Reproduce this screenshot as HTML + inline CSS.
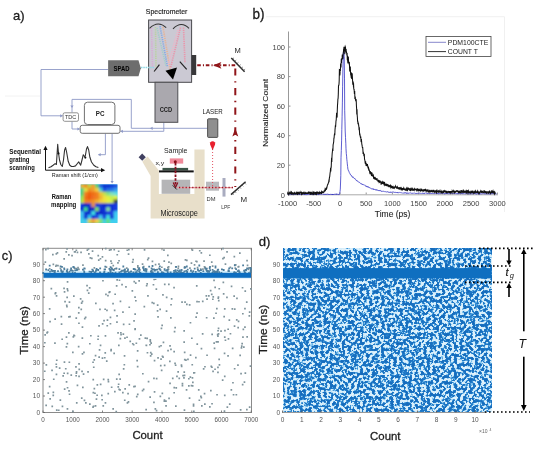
<!DOCTYPE html>
<html><head><meta charset="utf-8"><style>
html,body{margin:0;padding:0;background:#fff;}
svg{display:block;will-change:transform;}
text{font-family:"Liberation Sans",sans-serif;}
</style></head><body>
<svg width="533" height="449" viewBox="0 0 533 449">
<rect width="533" height="449" fill="#fff"/>
<text x="13" y="19.7" font-size="13.6" fill="#1a1a1a" text-anchor="start" font-weight="normal" textLength="11.6" lengthAdjust="spacingAndGlyphs" stroke="#1a1a1a" stroke-width="0.3">a)</text>
<line x1="5" y1="96" x2="40" y2="96" stroke="#f2f2f2" stroke-width="1"/>
<polyline points="108,69.5 41,69.5 41,115.8 62.5,115.8" fill="none" stroke="#8d98c6" stroke-width="0.9" />
<path d="M62.8 115.8 L60.2 114.2 L60.2 117.4 Z" fill="#8d98c6"/>
<polyline points="72,112.5 72,99.4 131.3,99.4 131.3,128.3 207.5,128.3" fill="none" stroke="#8d98c6" stroke-width="0.9" />
<path d="M72 108 L70.4 105.4 L73.6 105.4 Z" fill="#8d98c6"/>
<path d="M150 128.3 L152.6 126.7 L152.6 129.9 Z" fill="#8d98c6"/>
<polyline points="72,121.5 72,129 79.5,129" fill="none" stroke="#8d98c6" stroke-width="0.9" />
<path d="M80 129 L77.4 127.4 L77.4 130.6 Z" fill="#8d98c6"/>
<polyline points="163.8,122.5 163.8,131.3 120.5,131.3" fill="none" stroke="#8d98c6" stroke-width="0.9" />
<path d="M120.3 131.3 L122.9 129.7 L122.9 132.9 Z" fill="#8d98c6"/>
<polyline points="105.4,133.5 105.4,154.7 98.5,154.7" fill="none" stroke="#8d98c6" stroke-width="0.9" />
<path d="M98 154.7 L100.6 153.1 L100.6 156.3 Z" fill="#8d98c6"/>
<polyline points="112.1,133.5 112.1,182" fill="none" stroke="#8d98c6" stroke-width="0.9" />
<path d="M112.1 183.5 L110.5 180.9 L113.7 180.9 Z" fill="#8d98c6"/>
<text x="145.8" y="13.6" font-size="7.6" fill="#1a1a1a" text-anchor="start" font-weight="normal" textLength="41.6" lengthAdjust="spacingAndGlyphs" stroke="#1a1a1a" stroke-width="0.15">Spectrometer</text>
<rect x="148.6" y="20" width="43" height="62.3" fill="#cbc9d3" stroke="#4a4a4e" stroke-width="1"/>
<line x1="151.5" y1="28" x2="152.5" y2="67" stroke="#d9a9d6" stroke-width="1.7" stroke-dasharray="1.3 0.9" opacity="0.85"/>
<line x1="155.5" y1="27" x2="156" y2="67" stroke="#b8d49c" stroke-width="1.7" stroke-dasharray="1.3 0.9" opacity="0.85"/>
<line x1="160" y1="26" x2="167.5" y2="67" stroke="#7ea8e6" stroke-width="1.7" stroke-dasharray="1.3 0.9" opacity="0.85"/>
<line x1="163" y1="27" x2="170" y2="69" stroke="#e8b090" stroke-width="1.7" stroke-dasharray="1.3 0.9" opacity="0.85"/>
<line x1="157" y1="28" x2="166" y2="66" stroke="#9cd0c8" stroke-width="1.7" stroke-dasharray="1.3 0.9" opacity="0.85"/>
<line x1="180.5" y1="27.5" x2="170.5" y2="68" stroke="#ee8fa6" stroke-width="1.7" stroke-dasharray="1.3 0.9" opacity="0.85"/>
<line x1="183.5" y1="27.5" x2="185" y2="63" stroke="#ee8fa6" stroke-width="1.7" stroke-dasharray="1.3 0.9" opacity="0.85"/>
<line x1="178" y1="30" x2="168" y2="66" stroke="#f0b4c8" stroke-width="1.7" stroke-dasharray="1.3 0.9" opacity="0.85"/>
<path d="M149.5 28.4 Q157.9 20 166.2 27.6" fill="none" stroke="#333" stroke-width="1.1"/>
<path d="M173 28.8 Q181.4 20.4 189 28.4" fill="none" stroke="#333" stroke-width="1.1"/>
<line x1="154.1" y1="71.5" x2="159.4" y2="64.7" stroke="#222" stroke-width="1.2"/>
<line x1="179.8" y1="61.7" x2="186.7" y2="69.3" stroke="#222" stroke-width="1.2"/>
<path d="M165.5 70.8 L177 67.6 L173 79.6 Z" fill="#000"/>
<rect x="191.6" y="55" width="4.6" height="20" fill="#38383a"/>
<line x1="141" y1="67.5" x2="154" y2="67.5" stroke="#8fd8e4" stroke-width="1.6" stroke-dasharray="1.5 0.8"/>
<path d="M108.1 60.3 H138.5 L140.8 68.3 L138.5 76.3 H108.1 Z" fill="#6d6d6d"/>
<text x="113.6" y="70.8" font-size="6.5" fill="#000" text-anchor="start" font-weight="bold" textLength="16" lengthAdjust="spacingAndGlyphs" >SPAD</text>
<rect x="155" y="82.3" width="22.8" height="40" fill="#aaa8ae" stroke="#4e4e52" stroke-width="1"/>
<text x="159.7" y="112.1" font-size="7" fill="#222" text-anchor="start" font-weight="bold" textLength="12.5" lengthAdjust="spacingAndGlyphs" >CCD</text>
<rect x="63.1" y="112.8" width="15.4" height="8.5" rx="1.6" fill="#fff" stroke="#777" stroke-width="0.8"/>
<text x="65" y="119.2" font-size="5.6" fill="#333" text-anchor="start" font-weight="normal" textLength="11.3" lengthAdjust="spacingAndGlyphs" >TDC</text>
<rect x="84.4" y="102.2" width="30.5" height="22.3" rx="3.2" fill="#fff" stroke="#707070" stroke-width="1"/>
<text x="95.8" y="116.4" font-size="8" fill="#222" text-anchor="start" font-weight="bold" textLength="8.7" lengthAdjust="spacingAndGlyphs" >PC</text>
<rect x="80.2" y="125.3" width="39.8" height="8" rx="2" fill="#fff" stroke="#707070" stroke-width="1"/>
<line x1="45.5" y1="170.2" x2="45.5" y2="149" stroke="#111" stroke-width="1"/>
<path d="M45.5 145.8 L43.4 150 L47.6 150 Z" fill="#111"/>
<line x1="45.5" y1="170.2" x2="101.5" y2="170.2" stroke="#111" stroke-width="1"/>
<path d="M105.2 170.2 L101 168.1 L101 172.3 Z" fill="#111"/>
<polyline points="48.5,167.8 51,166.8 53.1,165.2 55.1,163.6 56.4,164.5 57.2,152 57.7,144.2 58.4,152 59.5,160 60.8,164.5 62.3,166.5 63.5,160 64.6,150 65.6,147.5 66.6,152 68.2,161.3 69.8,165.2 71.5,166.5 73.5,166.5 75.5,165.9 77.4,163.5 78.7,161.9 80.7,165.2 82,160 83.3,154.7 84.5,156.5 85.3,156 86.5,149 87.5,146.6 88.7,150 89.9,157.3 91.5,162 93.8,165.2 96,166.8 98.4,167.6" fill="none" stroke="#333" stroke-width="1.1" stroke-linejoin="round"/>
<circle cx="58.4" cy="153.4" r="1.1" fill="#111"/><circle cx="85.3" cy="157.6" r="1.1" fill="#111"/>
<text x="51.8" y="177.4" font-size="5.6" fill="#222" text-anchor="start" font-weight="normal" textLength="46" lengthAdjust="spacingAndGlyphs" >Raman shift (1/cm)</text>
<text x="9.3" y="153.8" font-size="7.3" fill="#111" text-anchor="start" font-weight="bold" textLength="31.7" lengthAdjust="spacingAndGlyphs" >Sequential</text>
<text x="9.3" y="162.2" font-size="7.3" fill="#111" text-anchor="start" font-weight="bold" textLength="20.2" lengthAdjust="spacingAndGlyphs" >grating</text>
<text x="9.3" y="170" font-size="7.3" fill="#111" text-anchor="start" font-weight="bold" textLength="25.5" lengthAdjust="spacingAndGlyphs" >scanning</text>
<text x="51.8" y="198.8" font-size="7.3" fill="#111" text-anchor="start" font-weight="bold" textLength="19.5" lengthAdjust="spacingAndGlyphs" >Raman</text>
<text x="51" y="207.1" font-size="7.3" fill="#111" text-anchor="start" font-weight="bold" textLength="25.3" lengthAdjust="spacingAndGlyphs" >mapping</text>
<text x="202.5" y="114" font-size="7.2" fill="#222" text-anchor="start" font-weight="normal" textLength="20.2" lengthAdjust="spacingAndGlyphs" >LASER</text>
<rect x="207.6" y="118.8" width="10.2" height="18.6" rx="0.8" fill="#8f8f8f" stroke="#444" stroke-width="0.9"/>
<path d="M194.4 149.6 H204.6 V218.5 H150.6 V176 L142.3 161.6 L147.6 156.4 L158.9 170.5 V194 H194.4 Z" fill="#e8dfca"/>
<path d="M138.6 157.2 L142.2 153.6 L145.8 157.2 L142.2 160.8 Z" fill="#404060"/>
<rect x="161.6" y="179.7" width="28.6" height="14.1" fill="#b5b5b7"/>
<rect x="162.5" y="167.9" width="25.6" height="2.6" fill="#3b5548"/>
<rect x="159" y="170.4" width="34.7" height="2" fill="#151515"/>
<rect x="169.8" y="158.4" width="13.4" height="5.2" fill="#f08a9a"/>
<circle cx="175.3" cy="161.8" r="1.5" fill="#8a0e18"/>
<text x="163.9" y="153" font-size="8" fill="#222" text-anchor="start" font-weight="normal" textLength="23.6" lengthAdjust="spacingAndGlyphs" >Sample</text>
<text x="155.4" y="164.6" font-size="6.2" fill="#222" text-anchor="start" font-weight="normal" textLength="8.9" lengthAdjust="spacingAndGlyphs" >x,y</text>
<text x="160.4" y="215.6" font-size="8.5" fill="#222" text-anchor="start" font-weight="normal" textLength="37.4" lengthAdjust="spacingAndGlyphs" >Microscope</text>
<rect x="206" y="181.7" width="13" height="9" fill="#b9b9bd"/>
<text x="206.6" y="200.6" font-size="6" fill="#333" text-anchor="start" font-weight="normal" textLength="9" lengthAdjust="spacingAndGlyphs" >DM</text>
<rect x="222.5" y="178" width="3" height="18.6" fill="#a9acc0"/>
<text x="221.2" y="208.6" font-size="6" fill="#333" text-anchor="start" font-weight="normal" textLength="9" lengthAdjust="spacingAndGlyphs" >LPF</text>
<line x1="235.2" y1="65.3" x2="196.3" y2="65.3" stroke="#901519" stroke-width="2" stroke-dasharray="3.6 1.8 1.1 2.1"/>
<path d="M213.2 65.3 L221.4 61.9 L219.6 65.3 L221.4 68.7 Z" fill="#901519"/>
<line x1="235.3" y1="65.3" x2="235.3" y2="187" stroke="#901519" stroke-width="2" stroke-dasharray="7.2 5.6 1.4 5.4" stroke-dashoffset="16.5"/>
<path d="M235.3 128.2 L232.3 136.6 L235.3 134.8 L238.3 136.6 Z" fill="#901519"/>
<line x1="233" y1="187.6" x2="177" y2="187.6" stroke="#e89aa0" stroke-width="1.1"/>
<line x1="233" y1="187.6" x2="177" y2="187.6" stroke="#9a1424" stroke-width="1.5" stroke-dasharray="1.2 2.1"/>
<line x1="175.5" y1="163" x2="175.5" y2="186" stroke="#8a1020" stroke-width="1.8" stroke-dasharray="2.6 1.2"/>
<path d="M173.2 182.5 L175.5 187.6 L177.8 182.5" fill="none" stroke="#8a1020" stroke-width="1.2"/>
<line x1="172.6" y1="185.3" x2="176.8" y2="189.5" stroke="#333" stroke-width="1"/>
<line x1="212.6" y1="149" x2="212.6" y2="187" stroke="#e04050" stroke-width="0.9" stroke-dasharray="1 2"/>
<path d="M212.6 150.3 L210.2 144.8 A2.6 2.6 0 1 1 215 144.8 Z" fill="#e8202e"/>
<line x1="231.3" y1="58" x2="244.6" y2="71.8" stroke="#2a2a2a" stroke-width="1.5"/>
<line x1="232.4" y1="59.1" x2="234" y2="57.8" stroke="#555" stroke-width="0.7"/>
<line x1="234.6" y1="61.5" x2="236.2" y2="60.1" stroke="#555" stroke-width="0.7"/>
<line x1="236.8" y1="63.8" x2="238.4" y2="62.4" stroke="#555" stroke-width="0.7"/>
<line x1="239.1" y1="66" x2="240.7" y2="64.6" stroke="#555" stroke-width="0.7"/>
<line x1="241.3" y1="68.3" x2="242.9" y2="66.9" stroke="#555" stroke-width="0.7"/>
<line x1="243.5" y1="70.6" x2="245.1" y2="69.2" stroke="#555" stroke-width="0.7"/>
<line x1="231" y1="194.6" x2="245.6" y2="181.7" stroke="#2a2a2a" stroke-width="1.5"/>
<line x1="232.2" y1="193.5" x2="233.7" y2="195" stroke="#555" stroke-width="0.7"/>
<line x1="234.7" y1="191.4" x2="236.2" y2="192.9" stroke="#555" stroke-width="0.7"/>
<line x1="237.1" y1="189.2" x2="238.6" y2="190.7" stroke="#555" stroke-width="0.7"/>
<line x1="239.5" y1="187.1" x2="241" y2="188.6" stroke="#555" stroke-width="0.7"/>
<line x1="241.9" y1="184.9" x2="243.4" y2="186.4" stroke="#555" stroke-width="0.7"/>
<line x1="244.4" y1="182.8" x2="245.9" y2="184.3" stroke="#555" stroke-width="0.7"/>
<text x="234.4" y="52.8" font-size="6.4" fill="#222" text-anchor="start" font-weight="normal" textLength="6.3" lengthAdjust="spacingAndGlyphs" >M</text>
<text x="240.4" y="202.2" font-size="6.4" fill="#222" text-anchor="start" font-weight="normal" textLength="6.6" lengthAdjust="spacingAndGlyphs" >M</text>
<defs><clipPath id="rmc"><rect x="80.5" y="184.2" width="37.1" height="38.9"/></clipPath><filter id="rmb" x="-0.2" y="-0.2" width="1.4" height="1.4"><feGaussianBlur stdDeviation="0.9"/></filter></defs>
<g clip-path="url(#rmc)"><rect x="80.5" y="184.2" width="37.1" height="38.9" fill="#40c8e8"/><g filter="url(#rmb)">
<rect x="80.2" y="183.9" width="4.3" height="4.5" fill="#f0b030"/>
<rect x="83.9" y="183.9" width="4.3" height="4.5" fill="#f09020"/>
<rect x="87.6" y="183.9" width="4.3" height="4.5" fill="#c0d040"/>
<rect x="91.3" y="183.9" width="4.3" height="4.5" fill="#f0a030"/>
<rect x="95" y="183.9" width="4.3" height="4.5" fill="#60d070"/>
<rect x="98.8" y="183.9" width="4.3" height="4.5" fill="#2060e0"/>
<rect x="102.5" y="183.9" width="4.3" height="4.5" fill="#1030d0"/>
<rect x="106.2" y="183.9" width="4.3" height="4.5" fill="#0830d0"/>
<rect x="109.9" y="183.9" width="4.3" height="4.5" fill="#1040d8"/>
<rect x="113.6" y="183.9" width="4.3" height="4.5" fill="#2050e0"/>
<rect x="80.2" y="187.8" width="4.3" height="4.5" fill="#60d080"/>
<rect x="83.9" y="187.8" width="4.3" height="4.5" fill="#e0e040"/>
<rect x="87.6" y="187.8" width="4.3" height="4.5" fill="#f09020"/>
<rect x="91.3" y="187.8" width="4.3" height="4.5" fill="#f0a030"/>
<rect x="95" y="187.8" width="4.3" height="4.5" fill="#f0d040"/>
<rect x="98.8" y="187.8" width="4.3" height="4.5" fill="#40d0d0"/>
<rect x="102.5" y="187.8" width="4.3" height="4.5" fill="#1850e0"/>
<rect x="106.2" y="187.8" width="4.3" height="4.5" fill="#2070e8"/>
<rect x="109.9" y="187.8" width="4.3" height="4.5" fill="#2878e8"/>
<rect x="113.6" y="187.8" width="4.3" height="4.5" fill="#3898f0"/>
<rect x="80.2" y="191.7" width="4.3" height="4.5" fill="#60d070"/>
<rect x="83.9" y="191.7" width="4.3" height="4.5" fill="#f08020"/>
<rect x="87.6" y="191.7" width="4.3" height="4.5" fill="#f06010"/>
<rect x="91.3" y="191.7" width="4.3" height="4.5" fill="#f07018"/>
<rect x="95" y="191.7" width="4.3" height="4.5" fill="#f08020"/>
<rect x="98.8" y="191.7" width="4.3" height="4.5" fill="#f0c030"/>
<rect x="102.5" y="191.7" width="4.3" height="4.5" fill="#c0e050"/>
<rect x="106.2" y="191.7" width="4.3" height="4.5" fill="#80e080"/>
<rect x="109.9" y="191.7" width="4.3" height="4.5" fill="#80e0c0"/>
<rect x="113.6" y="191.7" width="4.3" height="4.5" fill="#60e0e0"/>
<rect x="80.2" y="195.6" width="4.3" height="4.5" fill="#a0e050"/>
<rect x="83.9" y="195.6" width="4.3" height="4.5" fill="#f07018"/>
<rect x="87.6" y="195.6" width="4.3" height="4.5" fill="#f05810"/>
<rect x="91.3" y="195.6" width="4.3" height="4.5" fill="#f07020"/>
<rect x="95" y="195.6" width="4.3" height="4.5" fill="#f08020"/>
<rect x="98.8" y="195.6" width="4.3" height="4.5" fill="#f0b030"/>
<rect x="102.5" y="195.6" width="4.3" height="4.5" fill="#f0e040"/>
<rect x="106.2" y="195.6" width="4.3" height="4.5" fill="#e0f040"/>
<rect x="109.9" y="195.6" width="4.3" height="4.5" fill="#c0f050"/>
<rect x="113.6" y="195.6" width="4.3" height="4.5" fill="#e0f040"/>
<rect x="80.2" y="199.5" width="4.3" height="4.5" fill="#c0e040"/>
<rect x="83.9" y="199.5" width="4.3" height="4.5" fill="#f08020"/>
<rect x="87.6" y="199.5" width="4.3" height="4.5" fill="#f08020"/>
<rect x="91.3" y="199.5" width="4.3" height="4.5" fill="#f09028"/>
<rect x="95" y="199.5" width="4.3" height="4.5" fill="#f0b030"/>
<rect x="98.8" y="199.5" width="4.3" height="4.5" fill="#f0d040"/>
<rect x="102.5" y="199.5" width="4.3" height="4.5" fill="#f0e040"/>
<rect x="106.2" y="199.5" width="4.3" height="4.5" fill="#e8f040"/>
<rect x="109.9" y="199.5" width="4.3" height="4.5" fill="#d0f050"/>
<rect x="113.6" y="199.5" width="4.3" height="4.5" fill="#404840"/>
<rect x="80.2" y="203.3" width="4.3" height="4.5" fill="#1030e0"/>
<rect x="83.9" y="203.3" width="4.3" height="4.5" fill="#0818c0"/>
<rect x="87.6" y="203.3" width="4.3" height="4.5" fill="#1030d0"/>
<rect x="91.3" y="203.3" width="4.3" height="4.5" fill="#e09050"/>
<rect x="95" y="203.3" width="4.3" height="4.5" fill="#1030d0"/>
<rect x="98.8" y="203.3" width="4.3" height="4.5" fill="#1838d8"/>
<rect x="102.5" y="203.3" width="4.3" height="4.5" fill="#0820c8"/>
<rect x="106.2" y="203.3" width="4.3" height="4.5" fill="#1030d8"/>
<rect x="109.9" y="203.3" width="4.3" height="4.5" fill="#1030d8"/>
<rect x="113.6" y="203.3" width="4.3" height="4.5" fill="#1838e0"/>
<rect x="80.2" y="207.2" width="4.3" height="4.5" fill="#0820d0"/>
<rect x="83.9" y="207.2" width="4.3" height="4.5" fill="#40e080"/>
<rect x="87.6" y="207.2" width="4.3" height="4.5" fill="#0820c0"/>
<rect x="91.3" y="207.2" width="4.3" height="4.5" fill="#0818c0"/>
<rect x="95" y="207.2" width="4.3" height="4.5" fill="#80e060"/>
<rect x="98.8" y="207.2" width="4.3" height="4.5" fill="#1030d0"/>
<rect x="102.5" y="207.2" width="4.3" height="4.5" fill="#1030d8"/>
<rect x="106.2" y="207.2" width="4.3" height="4.5" fill="#80e0a0"/>
<rect x="109.9" y="207.2" width="4.3" height="4.5" fill="#1030d0"/>
<rect x="113.6" y="207.2" width="4.3" height="4.5" fill="#1838e0"/>
<rect x="80.2" y="211.1" width="4.3" height="4.5" fill="#40c0f0"/>
<rect x="83.9" y="211.1" width="4.3" height="4.5" fill="#1030d0"/>
<rect x="87.6" y="211.1" width="4.3" height="4.5" fill="#1030d0"/>
<rect x="91.3" y="211.1" width="4.3" height="4.5" fill="#40e0e0"/>
<rect x="95" y="211.1" width="4.3" height="4.5" fill="#1030d0"/>
<rect x="98.8" y="211.1" width="4.3" height="4.5" fill="#0a28c8"/>
<rect x="102.5" y="211.1" width="4.3" height="4.5" fill="#1030d0"/>
<rect x="106.2" y="211.1" width="4.3" height="4.5" fill="#1838d8"/>
<rect x="109.9" y="211.1" width="4.3" height="4.5" fill="#2040e0"/>
<rect x="113.6" y="211.1" width="4.3" height="4.5" fill="#40c8f0"/>
<rect x="80.2" y="215" width="4.3" height="4.5" fill="#40c0f0"/>
<rect x="83.9" y="215" width="4.3" height="4.5" fill="#1030d0"/>
<rect x="87.6" y="215" width="4.3" height="4.5" fill="#30c8f0"/>
<rect x="91.3" y="215" width="4.3" height="4.5" fill="#1030d0"/>
<rect x="95" y="215" width="4.3" height="4.5" fill="#2050e0"/>
<rect x="98.8" y="215" width="4.3" height="4.5" fill="#40c8f0"/>
<rect x="102.5" y="215" width="4.3" height="4.5" fill="#1838d8"/>
<rect x="106.2" y="215" width="4.3" height="4.5" fill="#40e0e0"/>
<rect x="109.9" y="215" width="4.3" height="4.5" fill="#1030d0"/>
<rect x="113.6" y="215" width="4.3" height="4.5" fill="#40d0f0"/>
<rect x="80.2" y="218.9" width="4.3" height="4.5" fill="#40d0e8"/>
<rect x="83.9" y="218.9" width="4.3" height="4.5" fill="#40c8f0"/>
<rect x="87.6" y="218.9" width="4.3" height="4.5" fill="#e0d040"/>
<rect x="91.3" y="218.9" width="4.3" height="4.5" fill="#f0a030"/>
<rect x="95" y="218.9" width="4.3" height="4.5" fill="#f0d040"/>
<rect x="98.8" y="218.9" width="4.3" height="4.5" fill="#80e070"/>
<rect x="102.5" y="218.9" width="4.3" height="4.5" fill="#40d0e0"/>
<rect x="106.2" y="218.9" width="4.3" height="4.5" fill="#60e080"/>
<rect x="109.9" y="218.9" width="4.3" height="4.5" fill="#40d0f0"/>
<rect x="113.6" y="218.9" width="4.3" height="4.5" fill="#40d0f0"/>
</g></g>
<polyline points="266,16.7 504.5,16.7 504.5,212" fill="none" stroke="#f0f0f0" stroke-width="1"/>
<text x="285" y="197.5" font-size="7.5" fill="#444" text-anchor="end" font-weight="normal" >0</text>
<line x1="288.5" y1="194.8" x2="290.5" y2="194.8" stroke="#777" stroke-width="0.8"/>
<text x="285" y="167.9" font-size="7.5" fill="#444" text-anchor="end" font-weight="normal" >20</text>
<line x1="288.5" y1="165.2" x2="290.5" y2="165.2" stroke="#777" stroke-width="0.8"/>
<text x="285" y="138.4" font-size="7.5" fill="#444" text-anchor="end" font-weight="normal" >40</text>
<line x1="288.5" y1="135.7" x2="290.5" y2="135.7" stroke="#777" stroke-width="0.8"/>
<text x="285" y="108.8" font-size="7.5" fill="#444" text-anchor="end" font-weight="normal" >60</text>
<line x1="288.5" y1="106.1" x2="290.5" y2="106.1" stroke="#777" stroke-width="0.8"/>
<text x="285" y="79.3" font-size="7.5" fill="#444" text-anchor="end" font-weight="normal" >80</text>
<line x1="288.5" y1="76.6" x2="290.5" y2="76.6" stroke="#777" stroke-width="0.8"/>
<text x="285" y="49.7" font-size="7.5" fill="#444" text-anchor="end" font-weight="normal" >100</text>
<line x1="288.5" y1="47" x2="290.5" y2="47" stroke="#777" stroke-width="0.8"/>
<text x="287.6" y="206.2" font-size="7.5" fill="#444" text-anchor="middle" font-weight="normal" >-1000</text>
<line x1="287.6" y1="194.5" x2="287.6" y2="192.5" stroke="#777" stroke-width="0.8"/>
<text x="313.8" y="206.2" font-size="7.5" fill="#444" text-anchor="middle" font-weight="normal" >-500</text>
<line x1="313.8" y1="194.5" x2="313.8" y2="192.5" stroke="#777" stroke-width="0.8"/>
<text x="340" y="206.2" font-size="7.5" fill="#444" text-anchor="middle" font-weight="normal" >0</text>
<line x1="340" y1="194.5" x2="340" y2="192.5" stroke="#777" stroke-width="0.8"/>
<text x="366.2" y="206.2" font-size="7.5" fill="#444" text-anchor="middle" font-weight="normal" >500</text>
<line x1="366.2" y1="194.5" x2="366.2" y2="192.5" stroke="#777" stroke-width="0.8"/>
<text x="392.4" y="206.2" font-size="7.5" fill="#444" text-anchor="middle" font-weight="normal" >1000</text>
<line x1="392.4" y1="194.5" x2="392.4" y2="192.5" stroke="#777" stroke-width="0.8"/>
<text x="418.7" y="206.2" font-size="7.5" fill="#444" text-anchor="middle" font-weight="normal" >1500</text>
<line x1="418.7" y1="194.5" x2="418.7" y2="192.5" stroke="#777" stroke-width="0.8"/>
<text x="444.9" y="206.2" font-size="7.5" fill="#444" text-anchor="middle" font-weight="normal" >2000</text>
<line x1="444.9" y1="194.5" x2="444.9" y2="192.5" stroke="#777" stroke-width="0.8"/>
<text x="471.1" y="206.2" font-size="7.5" fill="#444" text-anchor="middle" font-weight="normal" >2500</text>
<line x1="471.1" y1="194.5" x2="471.1" y2="192.5" stroke="#777" stroke-width="0.8"/>
<text x="497.4" y="206.2" font-size="7.5" fill="#444" text-anchor="middle" font-weight="normal" >3000</text>
<line x1="497.4" y1="194.5" x2="497.4" y2="192.5" stroke="#777" stroke-width="0.8"/>
<line x1="288.5" y1="31.5" x2="288.5" y2="195" stroke="#999" stroke-width="1"/>
<line x1="288" y1="194.8" x2="498" y2="194.8" stroke="#aaa" stroke-width="1"/>
<text x="392.6" y="217.3" font-size="9" fill="#262626" text-anchor="middle" font-weight="normal" textLength="35.5" lengthAdjust="spacingAndGlyphs" stroke="#262626" stroke-width="0.12">Time (ps)</text>
<text x="0" y="0" font-size="8" fill="#262626" text-anchor="middle" font-weight="normal" textLength="68" lengthAdjust="spacingAndGlyphs" stroke="#262626" stroke-width="0.12" transform="translate(268.3 113) rotate(-90)">Normalized Count</text>
<polyline points="287.6,194.4 287.8,194.2 288.1,194.4 288.3,194.4 288.6,194.6 288.9,194.4 289.1,194.1 289.4,194.3 289.6,194.1 289.9,194.3 290.2,194.3 290.4,194.3 290.7,194.7 291,194.2 291.2,194.2 291.5,194.2 291.7,194.7 292,194.7 292.3,194.6 292.5,194.5 292.8,194.3 293.1,194.4 293.3,194.2 293.6,194.5 293.8,194.3 294.1,194.3 294.4,194.5 294.6,194 294.9,194.2 295.2,194.1 295.4,194.5 295.7,194.5 295.9,194.4 296.2,194.4 296.5,194.2 296.7,194.3 297,194.5 297.3,194.6 297.5,194.5 297.8,194.1 298,194.5 298.3,194.3 298.6,194.3 298.8,194.7 299.1,194.3 299.4,194.1 299.6,194.8 299.9,194.4 300.1,194.4 300.4,194.5 300.7,194.2 300.9,194.4 301.2,194.7 301.4,194.2 301.7,194.2 302,194.1 302.2,194 302.5,194.3 302.8,194.3 303,194.6 303.3,194.2 303.5,194.5 303.8,194.5 304.1,194.6 304.3,194.6 304.6,194.5 304.9,194.1 305.1,194.8 305.4,194.7 305.6,194.3 305.9,194 306.2,194.2 306.4,194.8 306.7,194.9 307,194.3 307.2,194.5 307.5,194.6 307.7,194.1 308,194.1 308.3,194.3 308.5,194.3 308.8,194.3 309.1,194 309.3,194.2 309.6,194.2 309.8,194.2 310.1,194.7 310.4,194.1 310.6,194.1 310.9,194.2 311.2,194.8 311.4,194.5 311.7,194.2 311.9,194.8 312.2,194.4 312.5,194.1 312.7,194.6 313,194 313.3,194.2 313.5,194.4 313.8,194.3 314,194.2 314.3,194.3 314.6,194.1 314.8,194.5 315.1,194.4 315.3,194.1 315.6,194.4 315.9,194.6 316.1,194.1 316.4,194 316.7,194.5 316.9,194.7 317.2,194.4 317.4,194.4 317.7,194.4 318,194 318.2,194.6 318.5,194.1 318.8,194.6 319,194.5 319.3,194.2 319.5,194.1 319.8,194.2 320.1,194.3 320.3,194.3 320.6,194.3 320.9,194.2 321.1,194.4 321.4,194.3 321.6,194.2 321.9,194.4 322.2,194.2 322.4,194.2 322.7,193.9 323,194.3 323.2,194.5 323.5,194.4 323.7,194.4 324,194.2 324.3,194.4 324.5,194.3 324.8,193.9 325.1,194.9 325.3,194.6 325.6,194.3 325.8,194.3 326.1,194.3 326.4,194.5 326.6,194.2 326.9,194.3 327.1,194.5 327.4,193.8 327.7,194.3 327.9,194.5 328.2,194.4 328.5,194.4 328.7,194.4 329,195 329.2,194.5 329.5,194.1 329.8,194.6 330,194.4 330.3,194.1 330.6,194.2 330.8,194 331.1,194.7 331.3,194.4 331.6,194.4 331.9,194.2 332.1,194.1 332.4,195 332.7,194.1 332.9,194.7 333.2,194.2 333.4,194.7 333.7,194.3 334,194.1 334.2,194.4 334.5,194.3 334.8,194.2 335,194.3 335.3,194.4 335.5,194 335.8,194.1 336.1,194.4 336.3,193.7 336.6,194.6 336.9,194.2 337.1,194.4 337.4,194.3 337.6,194.2 337.9,194.3 338.2,194.2 338.4,194.7 338.7,194.7 339,194.2 339.2,194.6 339.5,194.2 339.7,193.6 340,191.6 340.3,189.1 340.5,184 340.8,175.4 341,157.8 341.3,150.5 341.6,140.9 341.8,129.6 342.1,116.8 342.4,102.1 342.6,86.8 342.9,69.2 343.1,61.7 343.4,52.6 343.7,49.8 343.9,51.8 344.2,56.7 344.5,78.1 344.7,110.2 345,121.9 345.2,131 345.5,137.4 345.8,143.2 346,148.8 346.3,153.6 346.6,156.2 346.8,159.2 347.1,161.7 347.3,163.9 347.6,166.4 347.9,169 348.1,169.7 348.4,170.7 348.7,170.7 348.9,171.4 349.2,172.2 349.4,172.7 349.7,173.1 350,173.8 350.2,174 350.5,174.9 350.8,174.9 351,175 351.3,175.3 351.5,176 351.8,175.9 352.1,176.8 352.3,176.8 352.6,177.3 352.9,176.8 353.1,177.6 353.4,177.5 353.6,177.8 353.9,178 354.2,178.4 354.4,178.5 354.7,178.3 354.9,179 355.2,179.1 355.5,179.2 355.7,179.7 356,180.2 356.3,180.3 356.5,180.1 356.8,180.9 357,180.9 357.3,180.8 357.6,181 357.8,181.4 358.1,181.4 358.4,181.8 358.6,182.2 358.9,182.5 359.1,182.4 359.4,182.3 359.7,182.7 359.9,183 360.2,183.1 360.5,183.4 360.7,183.3 361,183.7 361.2,183.5 361.5,184.2 361.8,183.8 362,184.1 362.3,184.6 362.6,184.1 362.8,184.5 363.1,185 363.3,184.9 363.6,184.7 363.9,185 364.1,184.9 364.4,185 364.7,185.2 364.9,185.4 365.2,185.3 365.4,185.6 365.7,185.8 366,186.5 366.2,186 366.5,186 366.7,186.5 367,186.7 367.3,186.3 367.5,187.2 367.8,186.9 368.1,186.6 368.3,187.4 368.6,187.2 368.8,187.1 369.1,187.6 369.4,187.6 369.6,187.6 369.9,188.1 370.2,188.1 370.4,188.1 370.7,188.1 370.9,188.4 371.2,188.5 371.5,188.8 371.7,188.8 372,188.6 372.3,188.8 372.5,189.1 372.8,189.2 373,188.5 373.3,188.9 373.6,189.1 373.8,189.9 374.1,189.2 374.4,189.3 374.6,189.1 374.9,189.5 375.1,189.6 375.4,189.6 375.7,190.2 375.9,189.6 376.2,189.8 376.5,190.1 376.7,189.7 377,189.7 377.2,190.4 377.5,190.3 377.8,190.2 378,190.3 378.3,190.5 378.6,190.6 378.8,190 379.1,190.3 379.3,190.9 379.6,190.9 379.9,190.3 380.1,190.5 380.4,190.4 380.6,190.7 380.9,191.1 381.2,190.9 381.4,191.5 381.7,191.2 382,191.1 382.2,191 382.5,191.4 382.7,191.3 383,191.2 383.3,191.3 383.5,191.2 383.8,191.4 384.1,191.5 384.3,191.3 384.6,191.5 384.8,191.8 385.1,191.8 385.4,191.7 385.6,191.7 385.9,191.7 386.2,191.8 386.4,191.8 386.7,191.9 386.9,192.2 387.2,191.8 387.5,191.7 387.7,191.8 388,192 388.3,191.9 388.5,192.2 388.8,192.4 389,192 389.3,192.3 389.6,191.9 389.8,192.3 390.1,192.7 390.4,192.4 390.6,191.8 390.9,192.3 391.1,192.5 391.4,192.4 391.7,192.1 391.9,192.1 392.2,192.2 392.4,191.9 392.7,192.1 393,192.3 393.2,192.2 393.5,192 393.8,192.1 394,192.1 394.3,192.6 394.5,192.4 394.8,192.3 395.1,192.5 395.3,192.2 395.6,192.3 395.9,192.3 396.1,192.6 396.4,192 396.6,192.3 396.9,192.6 397.2,192.5 397.4,192 397.7,192.7 398,192.4 398.2,192.4 398.5,192.6 398.7,192.9 399,192.6 399.3,192.6 399.5,192.4 399.8,192.5 400.1,192.7 400.3,192.6 400.6,192.6 400.8,192.7 401.1,192.8 401.4,192.9 401.6,192.7 401.9,193.1 402.2,193 402.4,192.9 402.7,193.2 402.9,193 403.2,193.3 403.5,193 403.7,192.8 404,192.8 404.3,192.9 404.5,193 404.8,193.2 405,192.5 405.3,192.8 405.6,192.7 405.8,193.1 406.1,193 406.3,193.4 406.6,192.8 406.9,192.8 407.1,193.4 407.4,193 407.7,192.8 407.9,193.4 408.2,193.4 408.4,193.2 408.7,193.1 409,193.3 409.2,193 409.5,193 409.8,192.9 410,192.9 410.3,192.7 410.5,192.8 410.8,193.3 411.1,193.2 411.3,193.3 411.6,193.3 411.9,193.1 412.1,193.1 412.4,193 412.6,193.4 412.9,193.4 413.2,193.1 413.4,193.1 413.7,193.2 414,193.1 414.2,193.3 414.5,193 414.7,193 415,193.1 415.3,193.3 415.5,193.2 415.8,193.7 416.1,193.4 416.3,193.1 416.6,193.5 416.8,193.1 417.1,193.1 417.4,193.5 417.6,193.2 417.9,193.3 418.2,193.1 418.4,193.1 418.7,193.2 418.9,193.4 419.2,193.2 419.5,193.2 419.7,193.1 420,193.2 420.2,193.4 420.5,193.5 420.8,193.3 421,193.4 421.3,193.5 421.6,193.3 421.8,193.4 422.1,193.2 422.3,193.1 422.6,193.4 422.9,192.8 423.1,193.4 423.4,193 423.7,193.3 423.9,193 424.2,193.8 424.4,193.5 424.7,193.3 425,193.2 425.2,192.8 425.5,193.2 425.8,193 426,193.2 426.3,193.1 426.5,193.2 426.8,193.4 427.1,193.2 427.3,193.6 427.6,193.1 427.9,193.6 428.1,193.3 428.4,192.9 428.6,193.4 428.9,193.4 429.2,193.1 429.4,193.4 429.7,193.6 430,193.3 430.2,193.3 430.5,193.2 430.7,193.6 431,193 431.3,193 431.5,193.4 431.8,193.4 432,193.5 432.3,193.1 432.6,193.6 432.8,193.3 433.1,193.6 433.4,193.6 433.6,193.3 433.9,193.2 434.1,193.5 434.4,193.6 434.7,193.3 434.9,193.5 435.2,193.4 435.5,193.1 435.7,193.2 436,193.6 436.2,193 436.5,193.5 436.8,193.3 437,193.6 437.3,193.5 437.6,193.9 437.8,193.1 438.1,193.2 438.3,193.8 438.6,193.9 438.9,193.9 439.1,193.3 439.4,193.6 439.7,193.6 439.9,193.6 440.2,193.6 440.4,193.8 440.7,193.6 441,193.9 441.2,193.6 441.5,193.5 441.8,193.5 442,193.6 442.3,193.8 442.5,193.5 442.8,193.7 443.1,193.2 443.3,193.4 443.6,193.6 443.9,193.7 444.1,193.8 444.4,193.8 444.6,193.7 444.9,193.6 445.2,193.5 445.4,193.5 445.7,193.2 445.9,193.8 446.2,193.6 446.5,193 446.7,194 447,193.7 447.3,193.6 447.5,193.6 447.8,193.5 448,193.7 448.3,193.6 448.6,193.6 448.8,193.5 449.1,194.1 449.4,193.8 449.6,193.6 449.9,193.9 450.1,193.9 450.4,193.5 450.7,193.8 450.9,193.5 451.2,193.5 451.5,193.6 451.7,193.5 452,193.7 452.2,194 452.5,193.7 452.8,193.6 453,193.8 453.3,193.7 453.6,193.5 453.8,193.9 454.1,193.5 454.3,193.3 454.6,193.8 454.9,193.6 455.1,193.7 455.4,193.3 455.7,193.6 455.9,193.5 456.2,193.8 456.4,193.7 456.7,193.7 457,194.1 457.2,193.4 457.5,193.5 457.8,194.1 458,193.5 458.3,193.7 458.5,193.6 458.8,193.6 459.1,194 459.3,193.8 459.6,193.4 459.8,193.8 460.1,193.9 460.4,194 460.6,194 460.9,193.6 461.2,193.3 461.4,193.6 461.7,193.7 461.9,193.2 462.2,193.8 462.5,193.9 462.7,193.6 463,193.6 463.3,194 463.5,194 463.8,193.7 464,193.7 464.3,194 464.6,193.8 464.8,193.9 465.1,193.6 465.4,193.8 465.6,193.8 465.9,193.8 466.1,193.5 466.4,193.4 466.7,193.8 466.9,193.6 467.2,193.9 467.5,193.7 467.7,193.6 468,193.4 468.2,193.8 468.5,193.8 468.8,193.7 469,194.1 469.3,193.8 469.6,193.9 469.8,193.7 470.1,194 470.3,194.2 470.6,193.8 470.9,193.7 471.1,193.9 471.4,193.6 471.6,193.8 471.9,193.9 472.2,193.7 472.4,194.1 472.7,193.9 473,193.8 473.2,193.6 473.5,193.8 473.7,193.7 474,193.9 474.3,193.7 474.5,193.4 474.8,193.9 475.1,193.3 475.3,193.9 475.6,193.8 475.8,193.8 476.1,193.6 476.4,194.1 476.6,194.3 476.9,193.7 477.2,193.6 477.4,193.7 477.7,193.2 477.9,193.8 478.2,193.8 478.5,193.6 478.7,193.7 479,193.5 479.3,194.1 479.5,193.9 479.8,194.6 480,193.6 480.3,193.9 480.6,193.6 480.8,193.4 481.1,193.8 481.4,193.9 481.6,193.9 481.9,194 482.1,194 482.4,193.7 482.7,193.8 482.9,193.8 483.2,193.9 483.5,193.6 483.7,193.7 484,193.9 484.2,193.7 484.5,193.9 484.8,194.1 485,193.5 485.3,193.7 485.5,194.1 485.8,193.6 486.1,193.8 486.3,194.2 486.6,193.5 486.9,193.8 487.1,193.7 487.4,193.8 487.6,193.9 487.9,194.2 488.2,193.7 488.4,193.9 488.7,193.9 489,193.8 489.2,193.9 489.5,193.7 489.7,194 490,193.9 490.3,194.4 490.5,194 490.8,193.7 491.1,193.6 491.3,194 491.6,193.9 491.8,193.5 492.1,194 492.4,193.7 492.6,193.5 492.9,193.9 493.2,193.6 493.4,194.1 493.7,193.8 493.9,193.9 494.2,193.9 494.5,193.6 494.7,193.4 495,194 495.3,194 495.5,193.8 495.8,194.1 496,193.8 496.3,193.8" fill="none" stroke="#3333c4" stroke-width="0.8"/>
<polyline points="287.6,193.5 287.8,193 288,194.3 288.2,192.8 288.4,194.3 288.6,193.8 288.8,193.7 289,193.6 289.2,192.8 289.4,193.3 289.6,193.6 289.9,193 290.1,192.3 290.3,193.3 290.5,193.1 290.7,192.5 290.9,193.1 291.1,194.1 291.3,191.7 291.5,191.9 291.7,194.6 292,193.3 292.2,193 292.4,192.7 292.6,192.9 292.8,193.5 293,194 293.2,193.2 293.4,192.6 293.6,194 293.8,194 294.1,193.3 294.3,194.5 294.5,193.5 294.7,193.6 294.9,193 295.1,193.7 295.3,193.9 295.5,193.5 295.7,193.3 295.9,193.7 296.2,193.3 296.4,192.8 296.6,192.5 296.8,192.2 297,193.8 297.2,193.6 297.4,194.9 297.6,192 297.8,193.7 298,193.3 298.2,192.9 298.5,194.2 298.7,193 298.9,193.3 299.1,194.5 299.3,193.1 299.5,192.5 299.7,194.5 299.9,192.7 300.1,193.1 300.3,193 300.6,193 300.8,192.4 301,193.4 301.2,192.7 301.4,193.5 301.6,192.8 301.8,193.8 302,193.3 302.2,192.1 302.4,193 302.7,193.4 302.9,194 303.1,193.8 303.3,193.1 303.5,192.6 303.7,193 303.9,192.9 304.1,193.3 304.3,192.4 304.5,193.5 304.8,193.6 305,192.7 305.2,193.2 305.4,193.4 305.6,193.6 305.8,193.4 306,192.8 306.2,193 306.4,194 306.6,193 306.9,193.1 307.1,193.9 307.3,192.7 307.5,193.4 307.7,193.4 307.9,192.7 308.1,192.4 308.3,193.7 308.5,192.9 308.7,193.8 308.9,191.7 309.2,193.5 309.4,192.4 309.6,193.6 309.8,192.7 310,191.8 310.2,194.9 310.4,193.5 310.6,192.9 310.8,193.3 311,193.6 311.3,191.8 311.5,193.2 311.7,194.3 311.9,192.7 312.1,194.3 312.3,192.5 312.5,193.6 312.7,193.1 312.9,192.4 313.1,193.1 313.4,194.1 313.6,194.3 313.8,192.4 314,192.7 314.2,193.7 314.4,192.6 314.6,192.9 314.8,192.8 315,194.7 315.2,193.4 315.5,192.6 315.7,192.7 315.9,192.6 316.1,194.8 316.3,193.1 316.5,192.9 316.7,191.5 316.9,193.8 317.1,193.4 317.3,193.2 317.6,192.6 317.8,193.5 318,192.4 318.2,193.7 318.4,193 318.6,193.5 318.8,193.1 319,193.6 319.2,194.2 319.4,192.4 319.6,192.8 319.9,193.3 320.1,192.8 320.3,192.2 320.5,193.5 320.7,192.8 320.9,192.3 321.1,192.3 321.3,192.8 321.5,193.9 321.7,191.6 322,192.1 322.2,192.3 322.4,192.4 322.6,192 322.8,192.4 323,192.7 323.2,192.3 323.4,192.1 323.6,191.9 323.8,192.1 324.1,190.7 324.3,191.9 324.5,190.3 324.7,191.2 324.9,190.1 325.1,189.1 325.3,189.7 325.5,190.1 325.7,189.2 325.9,188.9 326.2,189.9 326.4,188.8 326.6,187.8 326.8,188 327,187.1 327.2,186 327.4,185.4 327.6,184.6 327.8,184.2 328,184.2 328.3,183.2 328.5,182.5 328.7,181.7 328.9,180.6 329.1,180.9 329.3,178.6 329.5,177.1 329.7,176.8 329.9,174.7 330.1,172.8 330.3,172 330.6,168.1 330.8,171.6 331,167.2 331.2,167.2 331.4,162 331.6,157.8 331.8,162 332,156.3 332.2,153.2 332.4,151.6 332.7,148.5 332.9,151.1 333.1,144.9 333.3,144 333.5,142.8 333.7,142 333.9,138.2 334.1,138.1 334.3,135 334.5,134.2 334.8,135.2 335,129.9 335.2,127.9 335.4,125.4 335.6,126.9 335.8,123.7 336,120.8 336.2,120.1 336.4,116.2 336.6,112.9 336.9,117 337.1,117.4 337.3,109.7 337.5,105.4 337.7,102.8 337.9,99.1 338.1,98.3 338.3,94.2 338.5,85.7 338.7,85.6 339,84.1 339.2,80.5 339.4,69.5 339.6,69.6 339.8,75.4 340,74 340.2,69.8 340.4,71.1 340.6,63.6 340.8,66.1 341,67.5 341.3,58.8 341.5,62.9 341.7,59 341.9,58.3 342.1,57.9 342.3,54.6 342.5,56.4 342.7,58.7 342.9,58.5 343.1,54 343.4,52.1 343.6,49.4 343.8,48.8 344,46.8 344.2,47.9 344.4,50.5 344.6,49.9 344.8,54.2 345,47.8 345.2,46.6 345.5,47.4 345.7,50.5 345.9,51.6 346.1,49 346.3,52.9 346.5,51.6 346.7,53.2 346.9,55.4 347.1,53 347.3,59.8 347.6,60.2 347.8,62.5 348,63.4 348.2,57.2 348.4,57.5 348.6,63.5 348.8,62.8 349,61.9 349.2,63.8 349.4,63.5 349.7,71.6 349.9,70.6 350.1,68.4 350.3,66.6 350.5,71.4 350.7,75.1 350.9,74.6 351.1,76.4 351.3,77.9 351.5,72.4 351.7,79.1 352,78.3 352.2,73.4 352.4,77.3 352.6,80.9 352.8,84.8 353,83.4 353.2,81.5 353.4,85.4 353.6,85 353.8,89.2 354.1,89.4 354.3,92.4 354.5,92 354.7,91.1 354.9,98.9 355.1,96.7 355.3,97.1 355.5,100.2 355.7,100.6 355.9,100.2 356.2,99.9 356.4,105.3 356.6,108.3 356.8,114.5 357,109.3 357.2,115.2 357.4,117.5 357.6,121.6 357.8,120.9 358,124.3 358.3,123.3 358.5,123.9 358.7,126 358.9,126.8 359.1,130.1 359.3,127.2 359.5,132.1 359.7,135.3 359.9,133.6 360.1,135.7 360.4,137.2 360.6,137.1 360.8,137.1 361,140.6 361.2,140.2 361.4,139 361.6,141.5 361.8,144.1 362,144.9 362.2,146.4 362.4,147.5 362.7,147.5 362.9,149.8 363.1,154.1 363.3,151.8 363.5,154.1 363.7,153 363.9,155.6 364.1,155.6 364.3,153.9 364.5,159 364.8,160 365,161.2 365.2,163.2 365.4,163.4 365.6,161.4 365.8,163.3 366,165.3 366.2,165.4 366.4,163.4 366.6,165.6 366.9,165.6 367.1,165.3 367.3,164.6 367.5,164.5 367.7,166 367.9,167.4 368.1,167.9 368.3,166.5 368.5,167.4 368.7,169.7 369,169.3 369.2,169.9 369.4,170.6 369.6,171.6 369.8,172.8 370,172.4 370.2,173.8 370.4,171.4 370.6,172.4 370.8,174.4 371.1,172.1 371.3,172.9 371.5,176 371.7,172.6 371.9,173.9 372.1,172.9 372.3,176.4 372.5,175 372.7,175.3 372.9,175.8 373.1,176.1 373.4,175.5 373.6,178.2 373.8,178.2 374,178.5 374.2,178 374.4,178.3 374.6,177.6 374.8,177.9 375,178.4 375.2,179.2 375.5,179.2 375.7,178.2 375.9,178.6 376.1,179.4 376.3,179.9 376.5,178.3 376.7,180.4 376.9,179.4 377.1,179.1 377.3,180.5 377.6,179.7 377.8,181.5 378,179.7 378.2,180.6 378.4,182.3 378.6,180.4 378.8,181.9 379,180.1 379.2,182 379.4,181.6 379.7,181.4 379.9,182 380.1,181.6 380.3,182.4 380.5,181.5 380.7,182.2 380.9,182.1 381.1,184.7 381.3,181.5 381.5,182.6 381.8,184.2 382,182.7 382.2,182.5 382.4,182.1 382.6,184 382.8,182 383,183.5 383.2,181.5 383.4,183.7 383.6,183.1 383.8,184 384.1,184.7 384.3,183 384.5,183.3 384.7,182.9 384.9,183.5 385.1,184.8 385.3,185.7 385.5,185 385.7,185.1 385.9,185.3 386.2,184.3 386.4,184.6 386.6,185.2 386.8,184.9 387,185.2 387.2,185 387.4,184.7 387.6,184.6 387.8,186 388,186.7 388.3,184.5 388.5,185.6 388.7,184.9 388.9,187.1 389.1,186.2 389.3,186 389.5,187.2 389.7,186.6 389.9,185.7 390.1,185.5 390.4,185.2 390.6,187.1 390.8,187.6 391,186.2 391.2,186 391.4,186.6 391.6,187.8 391.8,186.3 392,186.4 392.2,186.6 392.4,187.5 392.7,186.9 392.9,186.6 393.1,187.6 393.3,188.7 393.5,187 393.7,187 393.9,187.4 394.1,186.7 394.3,187.9 394.5,187.5 394.8,187.7 395,187.1 395.2,186.4 395.4,187.8 395.6,186.1 395.8,186.5 396,187.1 396.2,187.3 396.4,186.5 396.6,188 396.9,187.9 397.1,188.7 397.3,187.6 397.5,187 397.7,187.6 397.9,187.7 398.1,188.2 398.3,188 398.5,189.2 398.7,187.4 399,188.5 399.2,189 399.4,188.8 399.6,188.9 399.8,187.7 400,187.6 400.2,189.4 400.4,187.7 400.6,187.8 400.8,188.9 401.1,189.6 401.3,189.1 401.5,189 401.7,188.3 401.9,188.9 402.1,190.1 402.3,188.5 402.5,189.8 402.7,188.1 402.9,189.6 403.1,189.3 403.4,189.4 403.6,189.2 403.8,187.9 404,188.3 404.2,188.5 404.4,188.7 404.6,190.1 404.8,189.4 405,189.4 405.2,189.8 405.5,188.7 405.7,189.6 405.9,189.6 406.1,189.9 406.3,190.6 406.5,188.7 406.7,188.2 406.9,189.1 407.1,189.9 407.3,191.2 407.6,189.1 407.8,188.4 408,189.1 408.2,188.6 408.4,188.3 408.6,188.5 408.8,189.7 409,188.6 409.2,188.8 409.4,190.5 409.7,189.7 409.9,190.5 410.1,189.6 410.3,189.1 410.5,190.3 410.7,191 410.9,188.6 411.1,189.3 411.3,188.5 411.5,190.5 411.8,188.9 412,188.1 412.2,188.2 412.4,189.8 412.6,189.5 412.8,189.8 413,189 413.2,189 413.4,189.7 413.6,190.7 413.8,189.3 414.1,190.1 414.3,189.4 414.5,189.6 414.7,188.7 414.9,189.1 415.1,190.2 415.3,189.6 415.5,188.7 415.7,190.3 415.9,189.6 416.2,189.1 416.4,189.1 416.6,189.6 416.8,190.9 417,190.9 417.2,189.9 417.4,189.8 417.6,188.3 417.8,190.7 418,189.3 418.3,189.6 418.5,191.3 418.7,190.7 418.9,190 419.1,190.5 419.3,190.3 419.5,189.9 419.7,190.8 419.9,189.9 420.1,190.7 420.4,190.6 420.6,189.9 420.8,190.7 421,190.1 421.2,189.2 421.4,190.3 421.6,190.5 421.8,189.8 422,190.6 422.2,189.6 422.5,191.3 422.7,190 422.9,190.8 423.1,191 423.3,189.2 423.5,191.1 423.7,189.3 423.9,190 424.1,189.5 424.3,191.2 424.5,189.7 424.8,189.5 425,190.7 425.2,190.7 425.4,188.9 425.6,190.5 425.8,190.9 426,191.1 426.2,190.3 426.4,190.4 426.6,190.6 426.9,189.5 427.1,190.9 427.3,190.4 427.5,189.7 427.7,191.4 427.9,190 428.1,189.5 428.3,191.7 428.5,191.6 428.7,191.5 429,192.1 429.2,190.5 429.4,192.1 429.6,190.5 429.8,189.9 430,192 430.2,191.1 430.4,192.2 430.6,190.4 430.8,191.5 431.1,191.1 431.3,190.9 431.5,190.6 431.7,191.2 431.9,191 432.1,191.4 432.3,191 432.5,191.8 432.7,191 432.9,192.4 433.2,191.4 433.4,189.8 433.6,191 433.8,192 434,191 434.2,191.8 434.4,192.3 434.6,191.7 434.8,190.7 435,190.9 435.2,191.3 435.5,191.8 435.7,192 435.9,190.3 436.1,191.1 436.3,191.9 436.5,192.7 436.7,192.2 436.9,189.6 437.1,192.1 437.3,191.4 437.6,191.2 437.8,191.4 438,191.5 438.2,192.3 438.4,192.1 438.6,190.2 438.8,191.9 439,190.8 439.2,192.6 439.4,191.6 439.7,191.2 439.9,190.7 440.1,192.2 440.3,191 440.5,191.2 440.7,191.9 440.9,191.1 441.1,192.1 441.3,192 441.5,191.5 441.8,193.3 442,191.5 442.2,192.1 442.4,192.5 442.6,191.8 442.8,191 443,191.8 443.2,190.6 443.4,192.3 443.6,192.4 443.9,190.4 444.1,191.2 444.3,190.9 444.5,192.1 444.7,191 444.9,191.3 445.1,191.1 445.3,191.5 445.5,190.7 445.7,192 445.9,192.2 446.2,192.5 446.4,190.8 446.6,192.1 446.8,192.3 447,192.2 447.2,191.9 447.4,192.4 447.6,191.8 447.8,192 448,192 448.3,192.2 448.5,191.6 448.7,191.9 448.9,191.5 449.1,191.4 449.3,191.4 449.5,193.1 449.7,192 449.9,192.2 450.1,191.1 450.4,192.7 450.6,192.1 450.8,191.8 451,191.9 451.2,191 451.4,191.9 451.6,191 451.8,192.6 452,192.9 452.2,190.8 452.5,191.4 452.7,191.3 452.9,191.6 453.1,191.3 453.3,192.5 453.5,191 453.7,192 453.9,191 454.1,191.6 454.3,193 454.6,192.6 454.8,190.9 455,191.8 455.2,192 455.4,191.6 455.6,192 455.8,192.1 456,191.7 456.2,191.6 456.4,190.7 456.6,191.7 456.9,190.5 457.1,190.5 457.3,190.6 457.5,191 457.7,191.7 457.9,191.7 458.1,191.9 458.3,192.3 458.5,191.8 458.7,192.2 459,190.7 459.2,191.4 459.4,192.1 459.6,193.1 459.8,191.8 460,192.1 460.2,192.5 460.4,192.6 460.6,193.3 460.8,191.4 461.1,191.9 461.3,190.1 461.5,191.8 461.7,191.9 461.9,190.9 462.1,191.7 462.3,191.7 462.5,192.1 462.7,192.3 462.9,190.8 463.2,191.2 463.4,190.7 463.6,192.1 463.8,191.8 464,192.5 464.2,191.2 464.4,192.8 464.6,191.5 464.8,191.1 465,190.9 465.3,192.5 465.5,191.2 465.7,192.4 465.9,192.4 466.1,192.8 466.3,191.1 466.5,190.8 466.7,192.3 466.9,192.4 467.1,192.2 467.3,190.2 467.6,191.3 467.8,192.3 468,193.1 468.2,192.4 468.4,191.1 468.6,190.7 468.8,192.1 469,192.4 469.2,192.3 469.4,193.2 469.7,191.4 469.9,192.7 470.1,191.3 470.3,193.1 470.5,192.8 470.7,191.8 470.9,192.5 471.1,191.5 471.3,192 471.5,192.8 471.8,191.6 472,191.4 472.2,193.3 472.4,190.8 472.6,191.7 472.8,191.5 473,193.3 473.2,192.5 473.4,192.3 473.6,191.3 473.9,193 474.1,192.6 474.3,193.4 474.5,192.2 474.7,191.8 474.9,193.2 475.1,192.4 475.3,191.7 475.5,191 475.7,191.6 476,192.3 476.2,192.8 476.4,192.7 476.6,192.5 476.8,192 477,192.1 477.2,190.9 477.4,191.9 477.6,192.8 477.8,191 478,191.4 478.3,192 478.5,192.6 478.7,193.3 478.9,192.8 479.1,191.5 479.3,192.6 479.5,193 479.7,192 479.9,191.9 480.1,191.7 480.4,191.7 480.6,191.2 480.8,192.7 481,191.5 481.2,192.8 481.4,191.6 481.6,192 481.8,192 482,191.5 482.2,192.1 482.5,191.4 482.7,191.5 482.9,192 483.1,192.5 483.3,192.6 483.5,192.5 483.7,192.3 483.9,192.2 484.1,190.1 484.3,191.7 484.6,191.6 484.8,192.7 485,192.6 485.2,192.4 485.4,192 485.6,192.9 485.8,191.1 486,192.5 486.2,191.4 486.4,193.7 486.7,192.2 486.9,192 487.1,192 487.3,191.8 487.5,192 487.7,192.1 487.9,193.4 488.1,192.7 488.3,193.8 488.5,191.8 488.7,192 489,192.3 489.2,192.7 489.4,192.6 489.6,191 489.8,191.1 490,192.2 490.2,191.4 490.4,193.3 490.6,193.5 490.8,192.5 491.1,192.8 491.3,192.6 491.5,192.1 491.7,190.2 491.9,192.7 492.1,192.2 492.3,192 492.5,192.3 492.7,191.6 492.9,191.1 493.2,193.1 493.4,192.1 493.6,192.4 493.8,192 494,193.3 494.2,193.4 494.4,193.8 494.6,191.9 494.8,192.1 495,192.2 495.3,193.8" fill="none" stroke="#111" stroke-width="1.05"/>
<rect x="426" y="36.5" width="65" height="20" fill="#fff" stroke="#444" stroke-width="0.8"/>
<line x1="428" y1="42.3" x2="446" y2="42.3" stroke="#8888cc" stroke-width="1"/>
<line x1="428" y1="51.6" x2="446" y2="51.6" stroke="#333" stroke-width="1"/>
<text x="447.8" y="44.8" font-size="7" fill="#222" text-anchor="start" font-weight="normal" textLength="40.5" lengthAdjust="spacingAndGlyphs" >PDM100CTE</text>
<text x="447.8" y="54.2" font-size="7" fill="#222" text-anchor="start" font-weight="normal" textLength="30" lengthAdjust="spacingAndGlyphs" >COUNT T</text>
<text x="252.6" y="19.4" font-size="13.8" fill="#1a1a1a" text-anchor="start" font-weight="normal" textLength="12" lengthAdjust="spacingAndGlyphs" stroke="#1a1a1a" stroke-width="0.3">b)</text>
<rect x="43" y="248.3" width="208.5" height="164.2" fill="#fff" stroke="#8a8a8a" stroke-width="1"/>
<text x="40" y="414.8" font-size="6.5" fill="#555" text-anchor="end" font-weight="normal" >0</text>
<line x1="43" y1="412.5" x2="45" y2="412.5" stroke="#666" stroke-width="0.8"/>
<text x="40" y="398.3" font-size="6.5" fill="#555" text-anchor="end" font-weight="normal" >10</text>
<line x1="43" y1="396" x2="45" y2="396" stroke="#666" stroke-width="0.8"/>
<text x="40" y="381.9" font-size="6.5" fill="#555" text-anchor="end" font-weight="normal" >20</text>
<line x1="43" y1="379.6" x2="45" y2="379.6" stroke="#666" stroke-width="0.8"/>
<text x="40" y="365.4" font-size="6.5" fill="#555" text-anchor="end" font-weight="normal" >30</text>
<line x1="43" y1="363.1" x2="45" y2="363.1" stroke="#666" stroke-width="0.8"/>
<text x="40" y="348.9" font-size="6.5" fill="#555" text-anchor="end" font-weight="normal" >40</text>
<line x1="43" y1="346.6" x2="45" y2="346.6" stroke="#666" stroke-width="0.8"/>
<text x="40" y="332.4" font-size="6.5" fill="#555" text-anchor="end" font-weight="normal" >50</text>
<line x1="43" y1="330.1" x2="45" y2="330.1" stroke="#666" stroke-width="0.8"/>
<text x="40" y="315.9" font-size="6.5" fill="#555" text-anchor="end" font-weight="normal" >60</text>
<line x1="43" y1="313.6" x2="45" y2="313.6" stroke="#666" stroke-width="0.8"/>
<text x="40" y="299.5" font-size="6.5" fill="#555" text-anchor="end" font-weight="normal" >70</text>
<line x1="43" y1="297.2" x2="45" y2="297.2" stroke="#666" stroke-width="0.8"/>
<text x="40" y="283" font-size="6.5" fill="#555" text-anchor="end" font-weight="normal" >80</text>
<line x1="43" y1="280.7" x2="45" y2="280.7" stroke="#666" stroke-width="0.8"/>
<text x="40" y="266.5" font-size="6.5" fill="#555" text-anchor="end" font-weight="normal" >90</text>
<line x1="43" y1="264.2" x2="45" y2="264.2" stroke="#666" stroke-width="0.8"/>
<text x="43" y="422.4" font-size="6.3" fill="#555" text-anchor="middle" font-weight="normal" >0</text>
<line x1="43" y1="412.5" x2="43" y2="410.5" stroke="#666" stroke-width="0.8"/>
<line x1="43" y1="248.3" x2="43" y2="250.3" stroke="#666" stroke-width="0.8"/>
<text x="72.8" y="422.4" font-size="6.3" fill="#555" text-anchor="middle" font-weight="normal" >1000</text>
<line x1="72.8" y1="412.5" x2="72.8" y2="410.5" stroke="#666" stroke-width="0.8"/>
<line x1="72.8" y1="248.3" x2="72.8" y2="250.3" stroke="#666" stroke-width="0.8"/>
<text x="102.5" y="422.4" font-size="6.3" fill="#555" text-anchor="middle" font-weight="normal" >2000</text>
<line x1="102.5" y1="412.5" x2="102.5" y2="410.5" stroke="#666" stroke-width="0.8"/>
<line x1="102.5" y1="248.3" x2="102.5" y2="250.3" stroke="#666" stroke-width="0.8"/>
<text x="132.2" y="422.4" font-size="6.3" fill="#555" text-anchor="middle" font-weight="normal" >3000</text>
<line x1="132.2" y1="412.5" x2="132.2" y2="410.5" stroke="#666" stroke-width="0.8"/>
<line x1="132.2" y1="248.3" x2="132.2" y2="250.3" stroke="#666" stroke-width="0.8"/>
<text x="162" y="422.4" font-size="6.3" fill="#555" text-anchor="middle" font-weight="normal" >4000</text>
<line x1="162" y1="412.5" x2="162" y2="410.5" stroke="#666" stroke-width="0.8"/>
<line x1="162" y1="248.3" x2="162" y2="250.3" stroke="#666" stroke-width="0.8"/>
<text x="191.8" y="422.4" font-size="6.3" fill="#555" text-anchor="middle" font-weight="normal" >5000</text>
<line x1="191.8" y1="412.5" x2="191.8" y2="410.5" stroke="#666" stroke-width="0.8"/>
<line x1="191.8" y1="248.3" x2="191.8" y2="250.3" stroke="#666" stroke-width="0.8"/>
<text x="221.5" y="422.4" font-size="6.3" fill="#555" text-anchor="middle" font-weight="normal" >6000</text>
<line x1="221.5" y1="412.5" x2="221.5" y2="410.5" stroke="#666" stroke-width="0.8"/>
<line x1="221.5" y1="248.3" x2="221.5" y2="250.3" stroke="#666" stroke-width="0.8"/>
<text x="251.2" y="422.4" font-size="6.3" fill="#555" text-anchor="middle" font-weight="normal" >7000</text>
<line x1="251.2" y1="412.5" x2="251.2" y2="410.5" stroke="#666" stroke-width="0.8"/>
<line x1="251.2" y1="248.3" x2="251.2" y2="250.3" stroke="#666" stroke-width="0.8"/>
<path d="M183.4 371.2h1.7v1.7h-1.7zM165.7 310.3h1.7v1.7h-1.7zM64.9 367.9h1.7v1.7h-1.7zM96.3 394.4h1.7v1.7h-1.7zM142.8 388.5h1.7v1.7h-1.7zM92.5 391.8h1.7v1.7h-1.7zM183.6 409.2h1.7v1.7h-1.7zM191.8 385h1.7v1.7h-1.7zM50.5 287.8h1.7v1.7h-1.7zM88.8 287h1.7v1.7h-1.7zM222.8 293h1.7v1.7h-1.7zM72 351.5h1.7v1.7h-1.7zM63.2 287.6h1.7v1.7h-1.7zM217.7 327.5h1.7v1.7h-1.7zM136.8 365.8h1.7v1.7h-1.7zM213.7 347.5h1.7v1.7h-1.7zM173.3 391.9h1.7v1.7h-1.7zM89 403.3h1.7v1.7h-1.7zM191 337.4h1.7v1.7h-1.7zM73 295.3h1.7v1.7h-1.7zM98.3 356.2h1.7v1.7h-1.7zM75.3 374.9h1.7v1.7h-1.7zM217.1 366.5h1.7v1.7h-1.7zM77.8 345.7h1.7v1.7h-1.7zM109 291h1.7v1.7h-1.7zM66.7 281h1.7v1.7h-1.7zM54.8 292.1h1.7v1.7h-1.7zM181.6 382.8h1.7v1.7h-1.7zM142 372.9h1.7v1.7h-1.7zM96.5 384.1h1.7v1.7h-1.7zM118.6 279.4h1.7v1.7h-1.7zM250 288.1h1.7v1.7h-1.7zM63.3 372.4h1.7v1.7h-1.7zM228.9 403.2h1.7v1.7h-1.7zM193.7 371.9h1.7v1.7h-1.7zM246 408.7h1.7v1.7h-1.7zM210.4 365.6h1.7v1.7h-1.7zM72.1 410.6h1.7v1.7h-1.7zM215.6 341h1.7v1.7h-1.7zM81.6 353.1h1.7v1.7h-1.7zM232.1 381.9h1.7v1.7h-1.7zM161.5 392.5h1.7v1.7h-1.7zM80.4 308.6h1.7v1.7h-1.7zM190.6 384.7h1.7v1.7h-1.7zM59.5 399.2h1.7v1.7h-1.7zM169.2 345.1h1.7v1.7h-1.7zM99.8 383.5h1.7v1.7h-1.7zM170 317h1.7v1.7h-1.7zM211.3 333.5h1.7v1.7h-1.7zM85 402.1h1.7v1.7h-1.7zM195 356.7h1.7v1.7h-1.7zM192.7 403.5h1.7v1.7h-1.7zM211.1 366.4h1.7v1.7h-1.7zM217.6 296.2h1.7v1.7h-1.7zM145.3 408.8h1.7v1.7h-1.7zM231.8 347.6h1.7v1.7h-1.7zM223.9 375.5h1.7v1.7h-1.7zM81.6 300.5h1.7v1.7h-1.7zM119.2 389.1h1.7v1.7h-1.7zM120 331.9h1.7v1.7h-1.7zM44 341.9h1.7v1.7h-1.7zM135.5 342.4h1.7v1.7h-1.7zM68.1 316.1h1.7v1.7h-1.7zM212.4 296h1.7v1.7h-1.7zM109.6 316.5h1.7v1.7h-1.7zM122.1 311.2h1.7v1.7h-1.7zM55.7 295.1h1.7v1.7h-1.7zM240.9 345.2h1.7v1.7h-1.7zM149.5 340.5h1.7v1.7h-1.7zM154.5 408.1h1.7v1.7h-1.7zM243.6 381.2h1.7v1.7h-1.7zM80.9 397.2h1.7v1.7h-1.7zM95 302.5h1.7v1.7h-1.7zM49.3 398h1.7v1.7h-1.7zM188 385h1.7v1.7h-1.7zM46.7 331.3h1.7v1.7h-1.7zM162.6 341.5h1.7v1.7h-1.7zM188.7 397.2h1.7v1.7h-1.7zM223.3 315.7h1.7v1.7h-1.7zM52.4 394.5h1.7v1.7h-1.7zM145.4 344.4h1.7v1.7h-1.7zM101 394.6h1.7v1.7h-1.7zM127.2 392.7h1.7v1.7h-1.7zM165.8 296.6h1.7v1.7h-1.7zM73.6 334.9h1.7v1.7h-1.7zM197.9 389h1.7v1.7h-1.7zM214.3 286.5h1.7v1.7h-1.7zM123.7 355.1h1.7v1.7h-1.7zM217.2 341.1h1.7v1.7h-1.7zM125.1 286h1.7v1.7h-1.7zM204.1 365.9h1.7v1.7h-1.7zM92.9 366.4h1.7v1.7h-1.7zM133.4 280.7h1.7v1.7h-1.7zM209.8 289.8h1.7v1.7h-1.7zM212 298.4h1.7v1.7h-1.7zM54.1 342.2h1.7v1.7h-1.7zM241.7 286.9h1.7v1.7h-1.7zM94.7 354.8h1.7v1.7h-1.7zM174.2 362.5h1.7v1.7h-1.7zM153.1 401.6h1.7v1.7h-1.7zM132.8 343.9h1.7v1.7h-1.7zM47.4 392.3h1.7v1.7h-1.7zM244.1 307.8h1.7v1.7h-1.7zM237.3 326.8h1.7v1.7h-1.7zM210.9 293.5h1.7v1.7h-1.7zM226.5 406.3h1.7v1.7h-1.7zM176.1 375.6h1.7v1.7h-1.7zM183.7 374.6h1.7v1.7h-1.7zM155.5 288.2h1.7v1.7h-1.7zM171.9 377.6h1.7v1.7h-1.7zM150.9 353.3h1.7v1.7h-1.7zM240.2 372.7h1.7v1.7h-1.7zM106.4 324.9h1.7v1.7h-1.7zM68 332h1.7v1.7h-1.7zM241.3 342.7h1.7v1.7h-1.7zM98.7 349h1.7v1.7h-1.7zM153.7 391.1h1.7v1.7h-1.7zM68.7 393.4h1.7v1.7h-1.7zM103.9 356.9h1.7v1.7h-1.7zM102.8 378.5h1.7v1.7h-1.7zM61.3 338.4h1.7v1.7h-1.7zM217.2 329.9h1.7v1.7h-1.7zM161.3 324.6h1.7v1.7h-1.7zM84.8 316.6h1.7v1.7h-1.7zM138.6 338.1h1.7v1.7h-1.7zM170.1 348.6h1.7v1.7h-1.7zM107.4 378.7h1.7v1.7h-1.7zM89 342.9h1.7v1.7h-1.7zM122.5 333.2h1.7v1.7h-1.7zM45.5 364.1h1.7v1.7h-1.7zM221.8 379.2h1.7v1.7h-1.7zM158.5 345.7h1.7v1.7h-1.7zM102.1 279.9h1.7v1.7h-1.7zM104.3 308.4h1.7v1.7h-1.7zM75.9 402h1.7v1.7h-1.7zM223.7 352.5h1.7v1.7h-1.7zM55.9 359.4h1.7v1.7h-1.7zM134.3 313.3h1.7v1.7h-1.7zM65.7 381h1.7v1.7h-1.7zM242 312.9h1.7v1.7h-1.7zM75.1 366.1h1.7v1.7h-1.7zM116.1 321.3h1.7v1.7h-1.7zM170.8 298.1h1.7v1.7h-1.7zM213.3 342.2h1.7v1.7h-1.7zM196.2 312.2h1.7v1.7h-1.7zM200.6 347.8h1.7v1.7h-1.7zM205.8 316.9h1.7v1.7h-1.7zM232.7 393.9h1.7v1.7h-1.7zM223.6 410.3h1.7v1.7h-1.7zM201.8 333.1h1.7v1.7h-1.7zM146.3 283.1h1.7v1.7h-1.7zM161.6 355.4h1.7v1.7h-1.7zM205.5 295.1h1.7v1.7h-1.7zM169 360.5h1.7v1.7h-1.7zM136.8 350.1h1.7v1.7h-1.7zM193 372h1.7v1.7h-1.7zM124.1 337.2h1.7v1.7h-1.7zM122.8 368.1h1.7v1.7h-1.7zM206.2 298.2h1.7v1.7h-1.7zM146.6 351.9h1.7v1.7h-1.7zM81.2 370.5h1.7v1.7h-1.7zM73.1 334.5h1.7v1.7h-1.7zM163.6 399.2h1.7v1.7h-1.7zM233.8 367.9h1.7v1.7h-1.7zM217.9 299.7h1.7v1.7h-1.7zM241.8 383.7h1.7v1.7h-1.7zM131.5 290.1h1.7v1.7h-1.7zM45.3 404.5h1.7v1.7h-1.7zM160.2 344.9h1.7v1.7h-1.7zM233.9 308.2h1.7v1.7h-1.7zM154.7 278.4h1.7v1.7h-1.7zM150.3 342.2h1.7v1.7h-1.7zM185.1 359.2h1.7v1.7h-1.7zM117.2 332h1.7v1.7h-1.7zM115.8 285.1h1.7v1.7h-1.7zM183.3 341.2h1.7v1.7h-1.7zM63.6 361.2h1.7v1.7h-1.7zM126.2 336.4h1.7v1.7h-1.7zM162.1 294.1h1.7v1.7h-1.7zM243 346.3h1.7v1.7h-1.7zM134.3 328h1.7v1.7h-1.7zM249.6 365.3h1.7v1.7h-1.7zM153 302.6h1.7v1.7h-1.7zM78.4 368.6h1.7v1.7h-1.7zM245.9 301.3h1.7v1.7h-1.7zM149.3 396.2h1.7v1.7h-1.7zM228.5 319.3h1.7v1.7h-1.7zM213.2 279.5h1.7v1.7h-1.7zM227.2 355h1.7v1.7h-1.7zM75.5 372.4h1.7v1.7h-1.7zM149.1 343.9h1.7v1.7h-1.7zM82 386.6h1.7v1.7h-1.7zM173.7 330.8h1.7v1.7h-1.7zM116.3 279h1.7v1.7h-1.7zM175 405.2h1.7v1.7h-1.7zM128.4 306.4h1.7v1.7h-1.7zM106.6 319.2h1.7v1.7h-1.7zM43.9 370.4h1.7v1.7h-1.7zM217.7 333.1h1.7v1.7h-1.7zM181.6 384.7h1.7v1.7h-1.7zM146.3 337.5h1.7v1.7h-1.7zM98.2 325h1.7v1.7h-1.7zM153.3 278.6h1.7v1.7h-1.7zM162.2 356.3h1.7v1.7h-1.7zM68.2 390h1.7v1.7h-1.7zM200.5 396.7h1.7v1.7h-1.7zM63.8 388.2h1.7v1.7h-1.7zM151.4 301.7h1.7v1.7h-1.7zM170.2 303.9h1.7v1.7h-1.7zM55.9 409.2h1.7v1.7h-1.7zM202.8 368h1.7v1.7h-1.7zM191.4 363.9h1.7v1.7h-1.7zM78.2 375.5h1.7v1.7h-1.7zM63.7 291h1.7v1.7h-1.7zM163.8 364.6h1.7v1.7h-1.7zM136.3 359.7h1.7v1.7h-1.7zM54.4 292.7h1.7v1.7h-1.7zM163.9 283.6h1.7v1.7h-1.7zM134.2 328.6h1.7v1.7h-1.7zM94.7 405h1.7v1.7h-1.7zM236.1 297.5h1.7v1.7h-1.7zM108.3 291.6h1.7v1.7h-1.7zM212.2 370.6h1.7v1.7h-1.7zM168 283.5h1.7v1.7h-1.7zM145.8 284.9h1.7v1.7h-1.7zM93.4 359.1h1.7v1.7h-1.7zM192 381.5h1.7v1.7h-1.7zM107.1 294.7h1.7v1.7h-1.7zM143.5 305.7h1.7v1.7h-1.7zM93.5 387.8h1.7v1.7h-1.7zM117.4 386.1h1.7v1.7h-1.7zM244.5 372.3h1.7v1.7h-1.7zM159.5 395.6h1.7v1.7h-1.7zM153.7 359.7h1.7v1.7h-1.7zM126.6 402.1h1.7v1.7h-1.7zM68.6 301.3h1.7v1.7h-1.7zM115.9 378.3h1.7v1.7h-1.7zM82.7 373.2h1.7v1.7h-1.7zM92.2 406.2h1.7v1.7h-1.7zM180.8 365.5h1.7v1.7h-1.7zM75.4 317.2h1.7v1.7h-1.7zM62.3 375.1h1.7v1.7h-1.7zM216.2 393.9h1.7v1.7h-1.7zM135 299.9h1.7v1.7h-1.7zM210 389.7h1.7v1.7h-1.7zM116.2 315h1.7v1.7h-1.7zM121.2 283.7h1.7v1.7h-1.7zM86.2 284.7h1.7v1.7h-1.7zM147.7 380.7h1.7v1.7h-1.7zM136.9 393.5h1.7v1.7h-1.7zM189.5 376.2h1.7v1.7h-1.7zM229.6 332.9h1.7v1.7h-1.7zM119.3 378.2h1.7v1.7h-1.7zM169.2 382.6h1.7v1.7h-1.7zM223.9 394.5h1.7v1.7h-1.7zM149.4 338.9h1.7v1.7h-1.7zM99.1 308.5h1.7v1.7h-1.7zM122.8 323.6h1.7v1.7h-1.7zM160.8 369.6h1.7v1.7h-1.7zM123.9 399.4h1.7v1.7h-1.7zM79.8 298h1.7v1.7h-1.7zM109.6 322.9h1.7v1.7h-1.7zM65.6 336.3h1.7v1.7h-1.7zM118 344.5h1.7v1.7h-1.7zM104.6 402.1h1.7v1.7h-1.7zM107.6 380.8h1.7v1.7h-1.7zM69.2 315.8h1.7v1.7h-1.7zM101.6 357.3h1.7v1.7h-1.7zM231.5 308h1.7v1.7h-1.7zM226.1 296.6h1.7v1.7h-1.7zM70.4 374.2h1.7v1.7h-1.7zM49.2 320.7h1.7v1.7h-1.7zM180.6 364.2h1.7v1.7h-1.7zM128.6 323.4h1.7v1.7h-1.7zM188 377.9h1.7v1.7h-1.7zM218.6 364.1h1.7v1.7h-1.7zM173.4 386.7h1.7v1.7h-1.7zM66.9 289.8h1.7v1.7h-1.7zM195.3 316.3h1.7v1.7h-1.7zM51.4 405.5h1.7v1.7h-1.7zM76.6 384.6h1.7v1.7h-1.7zM105.9 360.3h1.7v1.7h-1.7zM51.2 369.6h1.7v1.7h-1.7zM175.4 387h1.7v1.7h-1.7zM217.1 335.2h1.7v1.7h-1.7zM191.6 377h1.7v1.7h-1.7zM133.2 320.1h1.7v1.7h-1.7zM115.4 410.7h1.7v1.7h-1.7zM216 307.8h1.7v1.7h-1.7zM102.4 405.1h1.7v1.7h-1.7zM220.2 330.3h1.7v1.7h-1.7zM52.9 378.4h1.7v1.7h-1.7zM66.1 305.9h1.7v1.7h-1.7zM86.6 289.5h1.7v1.7h-1.7zM198.5 399.4h1.7v1.7h-1.7zM187.1 358.6h1.7v1.7h-1.7zM198.1 300.9h1.7v1.7h-1.7zM101.3 398.9h1.7v1.7h-1.7zM239.3 354.6h1.7v1.7h-1.7zM235.9 319.1h1.7v1.7h-1.7zM196.2 300.7h1.7v1.7h-1.7zM173.3 350.8h1.7v1.7h-1.7zM54.3 318.2h1.7v1.7h-1.7zM131.9 342.9h1.7v1.7h-1.7zM235.5 393.9h1.7v1.7h-1.7zM201 405h1.7v1.7h-1.7zM188.8 304h1.7v1.7h-1.7zM97.2 338.4h1.7v1.7h-1.7zM244.1 326.3h1.7v1.7h-1.7zM155.8 377.7h1.7v1.7h-1.7zM55.4 363.4h1.7v1.7h-1.7zM128.4 384.1h1.7v1.7h-1.7zM107.4 392.7h1.7v1.7h-1.7zM189.6 321.9h1.7v1.7h-1.7zM92.4 378.8h1.7v1.7h-1.7zM149.9 351.8h1.7v1.7h-1.7zM237.1 364.2h1.7v1.7h-1.7zM105.1 293.5h1.7v1.7h-1.7zM72.5 336.1h1.7v1.7h-1.7zM112.2 302.7h1.7v1.7h-1.7zM156.7 310h1.7v1.7h-1.7zM78.1 322.4h1.7v1.7h-1.7zM167.2 349.7h1.7v1.7h-1.7zM201.9 300.6h1.7v1.7h-1.7zM66.8 372.5h1.7v1.7h-1.7zM117.8 383.4h1.7v1.7h-1.7zM55.6 373.6h1.7v1.7h-1.7zM83.9 317.8h1.7v1.7h-1.7zM135.9 395.8h1.7v1.7h-1.7zM110.3 348.7h1.7v1.7h-1.7zM118.3 388.5h1.7v1.7h-1.7zM57.9 409.4h1.7v1.7h-1.7zM248.8 311.3h1.7v1.7h-1.7zM60.5 315.7h1.7v1.7h-1.7zM246.3 336.1h1.7v1.7h-1.7zM65.6 346h1.7v1.7h-1.7zM133.1 385.7h1.7v1.7h-1.7zM155.7 409.7h1.7v1.7h-1.7zM233.7 325.3h1.7v1.7h-1.7zM173.2 286.8h1.7v1.7h-1.7zM178.4 377.5h1.7v1.7h-1.7zM94.1 392.4h1.7v1.7h-1.7zM48.8 308.1h1.7v1.7h-1.7zM217.1 371.5h1.7v1.7h-1.7zM81.6 326.2h1.7v1.7h-1.7zM218.4 287.9h1.7v1.7h-1.7zM78 306.8h1.7v1.7h-1.7zM215.2 312.4h1.7v1.7h-1.7zM110.8 386.4h1.7v1.7h-1.7zM214.2 368.4h1.7v1.7h-1.7zM119.5 337.7h1.7v1.7h-1.7zM119.6 300.6h1.7v1.7h-1.7zM92.7 405.4h1.7v1.7h-1.7zM160.6 327.5h1.7v1.7h-1.7zM213 317.3h1.7v1.7h-1.7zM230.7 285.5h1.7v1.7h-1.7zM145.6 344.6h1.7v1.7h-1.7zM75.7 371.1h1.7v1.7h-1.7zM163.5 400.2h1.7v1.7h-1.7zM185.7 389.1h1.7v1.7h-1.7zM134.9 282.2h1.7v1.7h-1.7zM61.6 405.5h1.7v1.7h-1.7zM134.2 385.5h1.7v1.7h-1.7zM193 410.5h1.7v1.7h-1.7zM217.4 297.4h1.7v1.7h-1.7zM206.2 354.4h1.7v1.7h-1.7zM101.8 323.1h1.7v1.7h-1.7zM149.8 355h1.7v1.7h-1.7zM113.3 352.6h1.7v1.7h-1.7zM181.2 301.3h1.7v1.7h-1.7zM230.5 389h1.7v1.7h-1.7zM104.4 352.1h1.7v1.7h-1.7zM159.9 364.7h1.7v1.7h-1.7zM83.6 399.5h1.7v1.7h-1.7zM110.2 349.8h1.7v1.7h-1.7zM244.4 290.3h1.7v1.7h-1.7zM222.5 281.6h1.7v1.7h-1.7zM242.5 328.6h1.7v1.7h-1.7zM211.2 402.9h1.7v1.7h-1.7zM183.3 330h1.7v1.7h-1.7zM104.6 335.1h1.7v1.7h-1.7zM240.6 347.1h1.7v1.7h-1.7zM177.3 371.1h1.7v1.7h-1.7zM114.3 293.4h1.7v1.7h-1.7zM48.8 385.8h1.7v1.7h-1.7zM183.8 351.5h1.7v1.7h-1.7zM60.7 323.2h1.7v1.7h-1.7zM120.2 333.8h1.7v1.7h-1.7zM129.4 340.5h1.7v1.7h-1.7zM160.2 358.3h1.7v1.7h-1.7zM66.7 386.9h1.7v1.7h-1.7zM227.6 338.1h1.7v1.7h-1.7zM66.3 296.5h1.7v1.7h-1.7zM95.6 398.2h1.7v1.7h-1.7zM153.1 377.5h1.7v1.7h-1.7zM144.5 337.3h1.7v1.7h-1.7zM90 334.9h1.7v1.7h-1.7zM66.5 342.8h1.7v1.7h-1.7zM165.1 400.2h1.7v1.7h-1.7zM127.6 401.1h1.7v1.7h-1.7zM134.2 296.3h1.7v1.7h-1.7zM157.2 316.1h1.7v1.7h-1.7zM200 395.6h1.7v1.7h-1.7zM248.5 315.1h1.7v1.7h-1.7zM64.2 300.7h1.7v1.7h-1.7zM124.3 388.1h1.7v1.7h-1.7zM242.1 336.2h1.7v1.7h-1.7zM203.7 392.7h1.7v1.7h-1.7zM204 403.2h1.7v1.7h-1.7zM92.2 361.4h1.7v1.7h-1.7zM46.2 332h1.7v1.7h-1.7zM87.2 371h1.7v1.7h-1.7zM189.7 354.3h1.7v1.7h-1.7zM227.3 328.4h1.7v1.7h-1.7zM223.9 336.2h1.7v1.7h-1.7zM233.3 295.3h1.7v1.7h-1.7zM77.9 312h1.7v1.7h-1.7zM113.8 309.6h1.7v1.7h-1.7zM184.2 301.3h1.7v1.7h-1.7zM68.5 361.4h1.7v1.7h-1.7zM195.9 285.1h1.7v1.7h-1.7zM192.7 405.1h1.7v1.7h-1.7zM168.2 397.6h1.7v1.7h-1.7zM156.8 304.3h1.7v1.7h-1.7zM66.5 288.1h1.7v1.7h-1.7zM183.1 377.1h1.7v1.7h-1.7zM83.1 351.6h1.7v1.7h-1.7zM216.8 333.7h1.7v1.7h-1.7zM66.6 408h1.7v1.7h-1.7zM65.9 304.6h1.7v1.7h-1.7zM81.5 337.3h1.7v1.7h-1.7zM103.2 319.7h1.7v1.7h-1.7zM122 391.7h1.7v1.7h-1.7zM224.6 339.4h1.7v1.7h-1.7zM186 303.6h1.7v1.7h-1.7zM239.8 409h1.7v1.7h-1.7zM114 390.8h1.7v1.7h-1.7zM147.1 295h1.7v1.7h-1.7zM209 406.1h1.7v1.7h-1.7zM80.8 302.3h1.7v1.7h-1.7zM183.9 358.8h1.7v1.7h-1.7zM141.7 389.8h1.7v1.7h-1.7zM218.3 358.6h1.7v1.7h-1.7zM224.1 329.8h1.7v1.7h-1.7zM58.8 367.2h1.7v1.7h-1.7zM87.9 292.3h1.7v1.7h-1.7zM165.2 405h1.7v1.7h-1.7zM78.2 363h1.7v1.7h-1.7zM140 334.3h1.7v1.7h-1.7zM123.5 363.9h1.7v1.7h-1.7zM44.3 334h1.7v1.7h-1.7zM112.3 408.1h1.7v1.7h-1.7zM138.3 280h1.7v1.7h-1.7zM52.5 391.5h1.7v1.7h-1.7zM182.2 374.7h1.7v1.7h-1.7zM99.7 344.5h1.7v1.7h-1.7zM97.4 335.4h1.7v1.7h-1.7zM152.6 283.9h1.7v1.7h-1.7zM248.8 406.3h1.7v1.7h-1.7zM159.3 308.6h1.7v1.7h-1.7zM223.9 308.1h1.7v1.7h-1.7zM174.3 326.7h1.7v1.7h-1.7zM118.3 373.5h1.7v1.7h-1.7zM208 295.1h1.7v1.7h-1.7zM237.7 320.5h1.7v1.7h-1.7zM106.1 309.6h1.7v1.7h-1.7zM196.4 343.3h1.7v1.7h-1.7zM174.8 364.4h1.7v1.7h-1.7zM157.2 357h1.7v1.7h-1.7zM55.6 366.1h1.7v1.7h-1.7zM110.1 260.2h1.7v1.7h-1.7zM142.9 265.8h1.7v1.7h-1.7zM93.5 267h1.7v1.7h-1.7zM115.5 267.9h1.7v1.7h-1.7zM44.5 261.2h1.7v1.7h-1.7zM137 265.1h1.7v1.7h-1.7zM161 266.4h1.7v1.7h-1.7zM78.1 268.5h1.7v1.7h-1.7zM105.6 266.3h1.7v1.7h-1.7zM193.7 264.1h1.7v1.7h-1.7zM237.4 266.1h1.7v1.7h-1.7zM234.1 263.9h1.7v1.7h-1.7zM59.6 267.5h1.7v1.7h-1.7zM163.4 260.2h1.7v1.7h-1.7zM117.1 262.1h1.7v1.7h-1.7zM131.8 261.3h1.7v1.7h-1.7zM57.1 264.8h1.7v1.7h-1.7zM229.5 266.6h1.7v1.7h-1.7zM96.4 268.9h1.7v1.7h-1.7zM77.2 266.7h1.7v1.7h-1.7zM189.1 267.2h1.7v1.7h-1.7zM125.9 267.3h1.7v1.7h-1.7zM168.1 261.3h1.7v1.7h-1.7zM177.4 267.4h1.7v1.7h-1.7zM195.2 260.4h1.7v1.7h-1.7zM167.7 268.4h1.7v1.7h-1.7zM210.9 261.2h1.7v1.7h-1.7zM113.8 267.9h1.7v1.7h-1.7zM82.1 264.3h1.7v1.7h-1.7zM224.6 263.3h1.7v1.7h-1.7zM234.4 267.2h1.7v1.7h-1.7zM110.8 262.4h1.7v1.7h-1.7zM177.6 265.5h1.7v1.7h-1.7zM183.8 266.1h1.7v1.7h-1.7zM55 265.4h1.7v1.7h-1.7zM52.5 263.5h1.7v1.7h-1.7zM112.4 264.7h1.7v1.7h-1.7zM167 266.8h1.7v1.7h-1.7zM139.1 269h1.7v1.7h-1.7zM234.9 264h1.7v1.7h-1.7zM247.8 268.6h1.7v1.7h-1.7zM170.4 262.6h1.7v1.7h-1.7zM111.3 268.3h1.7v1.7h-1.7zM75.4 267.8h1.7v1.7h-1.7zM202.1 268.3h1.7v1.7h-1.7zM211.8 265.3h1.7v1.7h-1.7zM154.7 263.8h1.7v1.7h-1.7zM158.1 263.2h1.7v1.7h-1.7zM167.8 266.1h1.7v1.7h-1.7zM196.7 266.8h1.7v1.7h-1.7zM190.6 262.2h1.7v1.7h-1.7zM204 266.3h1.7v1.7h-1.7zM203.2 260.3h1.7v1.7h-1.7zM137 266.6h1.7v1.7h-1.7zM151.6 260.6h1.7v1.7h-1.7zM70.4 269.1h1.7v1.7h-1.7zM141.7 263.2h1.7v1.7h-1.7zM203.6 265.9h1.7v1.7h-1.7zM248.2 267.1h1.7v1.7h-1.7zM199.9 268.3h1.7v1.7h-1.7zM48.8 267.9h1.7v1.7h-1.7zM55.5 264.6h1.7v1.7h-1.7zM158.2 267.5h1.7v1.7h-1.7zM237.9 265.8h1.7v1.7h-1.7zM74 267.5h1.7v1.7h-1.7zM196 260.8h1.7v1.7h-1.7zM76.7 268.9h1.7v1.7h-1.7zM204.4 266.9h1.7v1.7h-1.7zM246.7 264.6h1.7v1.7h-1.7zM174.9 266h1.7v1.7h-1.7zM209 254.4h1.7v1.7h-1.7zM110.2 248.9h1.7v1.7h-1.7zM65.4 251h1.7v1.7h-1.7zM56.6 252.1h1.7v1.7h-1.7zM126.4 249.4h1.7v1.7h-1.7zM55.5 253.1h1.7v1.7h-1.7zM128 248.7h1.7v1.7h-1.7zM239 252.3h1.7v1.7h-1.7zM89.5 257h1.7v1.7h-1.7zM97.4 254.7h1.7v1.7h-1.7zM91 257.6h1.7v1.7h-1.7zM200.5 252.1h1.7v1.7h-1.7zM104.9 247.8h1.7v1.7h-1.7zM88 253h1.7v1.7h-1.7zM75.5 249.4h1.7v1.7h-1.7zM223.3 256.8h1.7v1.7h-1.7zM198.9 249.9h1.7v1.7h-1.7zM101.6 256h1.7v1.7h-1.7zM143.7 249.1h1.7v1.7h-1.7zM76.6 251.6h1.7v1.7h-1.7zM167 254.5h1.7v1.7h-1.7zM163.1 249.2h1.7v1.7h-1.7zM86.5 249.2h1.7v1.7h-1.7zM117.8 250.4h1.7v1.7h-1.7zM222.1 257.8h1.7v1.7h-1.7zM222.2 247.8h1.7v1.7h-1.7zM104.8 259.8h1.7v1.7h-1.7zM66.2 248h1.7v1.7h-1.7zM45 248.8h1.7v1.7h-1.7zM74.3 251h1.7v1.7h-1.7zM63.3 258h1.7v1.7h-1.7zM184.6 259h1.7v1.7h-1.7zM113.4 248.7h1.7v1.7h-1.7zM191.6 249.2h1.7v1.7h-1.7zM246.2 259.7h1.7v1.7h-1.7zM91.7 250.3h1.7v1.7h-1.7zM186 259.6h1.7v1.7h-1.7zM147.7 257.2h1.7v1.7h-1.7zM132.3 258.8h1.7v1.7h-1.7zM47.2 247.8h1.7v1.7h-1.7zM108.7 249.2h1.7v1.7h-1.7zM68 254.1h1.7v1.7h-1.7zM71.2 254.8h1.7v1.7h-1.7zM80.2 251.6h1.7v1.7h-1.7zM73.7 251h1.7v1.7h-1.7zM146.9 258.7h1.7v1.7h-1.7zM116.4 253.9h1.7v1.7h-1.7zM233.5 255.8h1.7v1.7h-1.7zM87.7 248.1h1.7v1.7h-1.7zM226.2 251h1.7v1.7h-1.7zM99.6 257.9h1.7v1.7h-1.7zM97.9 259.2h1.7v1.7h-1.7zM52 253.8h1.7v1.7h-1.7zM127.7 253.2h1.7v1.7h-1.7zM118.2 259.9h1.7v1.7h-1.7z" fill="#80949c"/>
<rect x="43.5" y="271" width="207.5" height="2" fill="#d2eefa"/>
<rect x="43.5" y="277.6" width="207.5" height="1.2" fill="#e0f2fb"/>
<path d="M185.4 269.9h1.8v1.8h-1.8zM156.4 268.8h1.8v1.8h-1.8zM185.9 265.6h1.8v1.8h-1.8zM191.6 271.5h1.8v1.8h-1.8zM125.3 270.8h1.8v1.8h-1.8zM244.7 269.1h1.8v1.8h-1.8zM122.7 269.7h1.8v1.8h-1.8zM71.9 270h1.8v1.8h-1.8zM250 267.7h1.8v1.8h-1.8zM235 272.1h1.8v1.8h-1.8zM95.1 269.8h1.8v1.8h-1.8zM92.2 270.2h1.8v1.8h-1.8zM83.4 267.5h1.8v1.8h-1.8zM205.4 268h1.8v1.8h-1.8zM231.3 267.4h1.8v1.8h-1.8zM109.7 270.7h1.8v1.8h-1.8zM176.7 269.5h1.8v1.8h-1.8zM244.4 271.4h1.8v1.8h-1.8zM42.3 272.1h1.8v1.8h-1.8zM148.3 265.8h1.8v1.8h-1.8zM165.4 269.8h1.8v1.8h-1.8zM173.2 272.1h1.8v1.8h-1.8zM196.9 268.5h1.8v1.8h-1.8zM124.1 268.6h1.8v1.8h-1.8zM151.7 268.5h1.8v1.8h-1.8zM109.2 269h1.8v1.8h-1.8zM173.1 270h1.8v1.8h-1.8zM169.7 271.6h1.8v1.8h-1.8zM97.3 269.1h1.8v1.8h-1.8zM192.4 270.2h1.8v1.8h-1.8zM150.8 269.9h1.8v1.8h-1.8zM71.7 271.9h1.8v1.8h-1.8zM235.2 268.3h1.8v1.8h-1.8zM151.9 271.5h1.8v1.8h-1.8zM211.5 272.1h1.8v1.8h-1.8zM213.3 270.2h1.8v1.8h-1.8zM138 268.3h1.8v1.8h-1.8zM228.3 267.4h1.8v1.8h-1.8zM222.8 269.1h1.8v1.8h-1.8zM215.4 271.4h1.8v1.8h-1.8zM212.4 270.9h1.8v1.8h-1.8zM94.5 270.9h1.8v1.8h-1.8zM63.5 268.5h1.8v1.8h-1.8zM150.7 267.6h1.8v1.8h-1.8zM136.4 269.4h1.8v1.8h-1.8zM249.7 270.5h1.8v1.8h-1.8zM186.8 268.7h1.8v1.8h-1.8zM208.3 271h1.8v1.8h-1.8zM200.1 269.3h1.8v1.8h-1.8zM118.5 268.2h1.8v1.8h-1.8zM150.5 272h1.8v1.8h-1.8zM112.9 269.1h1.8v1.8h-1.8zM121.5 270h1.8v1.8h-1.8zM160.9 272h1.8v1.8h-1.8zM54.1 269.9h1.8v1.8h-1.8zM99.3 267.5h1.8v1.8h-1.8zM109.6 271.9h1.8v1.8h-1.8zM61.1 266h1.8v1.8h-1.8zM174.6 270.8h1.8v1.8h-1.8zM130.2 270.5h1.8v1.8h-1.8zM207.1 269.9h1.8v1.8h-1.8zM51.2 270.1h1.8v1.8h-1.8zM134.3 268.7h1.8v1.8h-1.8zM103.6 268.4h1.8v1.8h-1.8zM127.1 268.6h1.8v1.8h-1.8zM115.5 267.4h1.8v1.8h-1.8zM122.4 265.6h1.8v1.8h-1.8zM82 268.7h1.8v1.8h-1.8zM244.4 271.5h1.8v1.8h-1.8zM180.7 269.1h1.8v1.8h-1.8zM110.7 267.2h1.8v1.8h-1.8zM121.1 269.8h1.8v1.8h-1.8zM151.6 265.1h1.8v1.8h-1.8zM199.8 272.1h1.8v1.8h-1.8zM47.4 269.2h1.8v1.8h-1.8zM138.3 270.2h1.8v1.8h-1.8zM216.9 269h1.8v1.8h-1.8zM227.5 270.3h1.8v1.8h-1.8zM133.7 268.3h1.8v1.8h-1.8zM213.8 272h1.8v1.8h-1.8zM181.7 272h1.8v1.8h-1.8zM50.6 268.9h1.8v1.8h-1.8zM183.7 266.9h1.8v1.8h-1.8zM202.4 270.3h1.8v1.8h-1.8zM66.7 272h1.8v1.8h-1.8zM212.3 270.9h1.8v1.8h-1.8zM63.3 267.5h1.8v1.8h-1.8zM159.6 269.3h1.8v1.8h-1.8zM53.6 270h1.8v1.8h-1.8zM142.6 267.5h1.8v1.8h-1.8zM53.5 271h1.8v1.8h-1.8zM163.7 269h1.8v1.8h-1.8zM250 269.5h1.8v1.8h-1.8zM72.4 266.1h1.8v1.8h-1.8zM111.7 271.9h1.8v1.8h-1.8zM248 272.2h1.8v1.8h-1.8zM99.3 272h1.8v1.8h-1.8zM95.2 269.4h1.8v1.8h-1.8zM221 268.5h1.8v1.8h-1.8zM129.6 270.9h1.8v1.8h-1.8zM52.8 270h1.8v1.8h-1.8zM209.1 266h1.8v1.8h-1.8zM220.5 272.1h1.8v1.8h-1.8zM53 270h1.8v1.8h-1.8zM153.9 269.6h1.8v1.8h-1.8zM143.9 269.6h1.8v1.8h-1.8zM163.7 268.3h1.8v1.8h-1.8zM83.8 267.8h1.8v1.8h-1.8zM233.6 271.2h1.8v1.8h-1.8zM107.5 271.9h1.8v1.8h-1.8zM153.1 268.6h1.8v1.8h-1.8zM109.5 269.9h1.8v1.8h-1.8zM99.1 271.4h1.8v1.8h-1.8zM190.1 269.6h1.8v1.8h-1.8zM209.2 269.2h1.8v1.8h-1.8zM236.8 270.2h1.8v1.8h-1.8zM134.7 271.4h1.8v1.8h-1.8zM132.4 271.4h1.8v1.8h-1.8zM175.2 266h1.8v1.8h-1.8zM57.1 270.2h1.8v1.8h-1.8zM166.3 269.1h1.8v1.8h-1.8zM158.9 265.5h1.8v1.8h-1.8zM208.8 267.3h1.8v1.8h-1.8zM182.7 272.2h1.8v1.8h-1.8zM103.5 270.7h1.8v1.8h-1.8zM72.5 266.1h1.8v1.8h-1.8zM233.2 271.8h1.8v1.8h-1.8zM61.9 270.8h1.8v1.8h-1.8zM205.4 269h1.8v1.8h-1.8zM179.3 271.2h1.8v1.8h-1.8zM95.7 268.1h1.8v1.8h-1.8zM74.3 269.4h1.8v1.8h-1.8zM53.9 271.9h1.8v1.8h-1.8zM216.2 271.3h1.8v1.8h-1.8zM103.2 271.7h1.8v1.8h-1.8zM108.5 267.9h1.8v1.8h-1.8zM158.8 268.1h1.8v1.8h-1.8zM109.7 266.2h1.8v1.8h-1.8zM217.3 268.8h1.8v1.8h-1.8zM246.2 267.4h1.8v1.8h-1.8zM123.6 269.1h1.8v1.8h-1.8zM175.5 271.6h1.8v1.8h-1.8zM88.6 270.8h1.8v1.8h-1.8zM138.8 271.8h1.8v1.8h-1.8zM193.8 267.7h1.8v1.8h-1.8zM65.9 270.1h1.8v1.8h-1.8zM214.6 266.8h1.8v1.8h-1.8zM249.5 267h1.8v1.8h-1.8zM237.7 269.5h1.8v1.8h-1.8zM114.6 271.8h1.8v1.8h-1.8zM198.4 264.6h1.8v1.8h-1.8zM61.5 272.1h1.8v1.8h-1.8zM143 269.3h1.8v1.8h-1.8zM154.7 268.9h1.8v1.8h-1.8zM60.5 270.5h1.8v1.8h-1.8zM228.1 270.2h1.8v1.8h-1.8zM218.2 271.2h1.8v1.8h-1.8zM48.8 264.8h1.8v1.8h-1.8zM166.8 269.3h1.8v1.8h-1.8zM238.8 271.6h1.8v1.8h-1.8zM178.8 269.4h1.8v1.8h-1.8zM135.7 271.3h1.8v1.8h-1.8zM93.6 272.1h1.8v1.8h-1.8zM206.1 270.2h1.8v1.8h-1.8zM104.2 268.4h1.8v1.8h-1.8zM62 270.4h1.8v1.8h-1.8zM157 271.2h1.8v1.8h-1.8zM138.2 267.9h1.8v1.8h-1.8zM49.1 270.7h1.8v1.8h-1.8zM176.8 272.1h1.8v1.8h-1.8zM69.6 269.5h1.8v1.8h-1.8zM120.1 270.8h1.8v1.8h-1.8zM180.2 271.2h1.8v1.8h-1.8zM238.2 270.5h1.8v1.8h-1.8zM111.2 268.6h1.8v1.8h-1.8zM142.1 266.6h1.8v1.8h-1.8zM73.1 266.6h1.8v1.8h-1.8zM66.5 268.4h1.8v1.8h-1.8zM145.4 270.6h1.8v1.8h-1.8zM139.5 271.9h1.8v1.8h-1.8zM76.3 268.4h1.8v1.8h-1.8zM118.5 271.4h1.8v1.8h-1.8zM83.3 270.4h1.8v1.8h-1.8zM68.6 271h1.8v1.8h-1.8zM92.1 269.5h1.8v1.8h-1.8zM227.6 269.4h1.8v1.8h-1.8zM45.2 268.6h1.8v1.8h-1.8zM206.8 270.9h1.8v1.8h-1.8zM160.9 271.3h1.8v1.8h-1.8zM198.3 270h1.8v1.8h-1.8zM74.1 272.1h1.8v1.8h-1.8zM124 271.4h1.8v1.8h-1.8zM150 270.4h1.8v1.8h-1.8zM59.7 265.5h1.8v1.8h-1.8zM162.6 271.8h1.8v1.8h-1.8zM205.4 267.8h1.8v1.8h-1.8zM190.1 269.9h1.8v1.8h-1.8zM166.9 271.3h1.8v1.8h-1.8zM246.8 267.8h1.8v1.8h-1.8zM186.2 271.1h1.8v1.8h-1.8zM211.7 268.9h1.8v1.8h-1.8zM138.3 267.2h1.8v1.8h-1.8zM233.9 264.4h1.8v1.8h-1.8zM127.9 271.7h1.8v1.8h-1.8zM126.9 270.1h1.8v1.8h-1.8zM194.9 270.9h1.8v1.8h-1.8zM183.5 270.5h1.8v1.8h-1.8zM71.3 269.8h1.8v1.8h-1.8zM83.4 271.7h1.8v1.8h-1.8zM245.3 269.3h1.8v1.8h-1.8zM249.8 271.2h1.8v1.8h-1.8zM145.7 268.6h1.8v1.8h-1.8zM204.4 267.6h1.8v1.8h-1.8zM174.6 269.2h1.8v1.8h-1.8zM83.5 267.7h1.8v1.8h-1.8zM205.9 267.7h1.8v1.8h-1.8zM61.3 271.6h1.8v1.8h-1.8zM75.9 269.2h1.8v1.8h-1.8zM243.2 269.7h1.8v1.8h-1.8zM70.2 267.4h1.8v1.8h-1.8zM214.6 265.6h1.8v1.8h-1.8zM197.2 269.5h1.8v1.8h-1.8zM215.5 270.8h1.8v1.8h-1.8zM132.8 268.1h1.8v1.8h-1.8zM213.9 270.8h1.8v1.8h-1.8zM104.4 265.7h1.8v1.8h-1.8zM242.2 264.4h1.8v1.8h-1.8zM66.2 270.6h1.8v1.8h-1.8zM243.8 271.6h1.8v1.8h-1.8zM216.7 269.8h1.8v1.8h-1.8zM90.4 271.1h1.8v1.8h-1.8zM91.4 268.8h1.8v1.8h-1.8zM144.7 268h1.8v1.8h-1.8zM190 269.5h1.8v1.8h-1.8zM123.7 271h1.8v1.8h-1.8zM184.3 266.5h1.8v1.8h-1.8zM238.2 270.7h1.8v1.8h-1.8zM60.2 269.2h1.8v1.8h-1.8zM178 270.7h1.8v1.8h-1.8zM166 269.7h1.8v1.8h-1.8z" fill="#4f7f9e"/>
<rect x="43.5" y="272.8" width="207.5" height="5" fill="#0d6ec0"/>
<text x="0" y="0" font-size="11.6" fill="#1e1e1e" text-anchor="middle" font-weight="normal" textLength="48.3" lengthAdjust="spacingAndGlyphs" stroke="#1e1e1e" stroke-width="0.3" transform="translate(28.2 330.4) rotate(-90)">Time (ns)</text>
<text x="147.5" y="438.8" font-size="11.6" fill="#1e1e1e" text-anchor="middle" font-weight="normal" textLength="30.2" lengthAdjust="spacingAndGlyphs" stroke="#1e1e1e" stroke-width="0.3">Count</text>
<text x="1.8" y="259.8" font-size="13.4" fill="#1a1a1a" text-anchor="start" font-weight="normal" textLength="10.6" lengthAdjust="spacingAndGlyphs" stroke="#1a1a1a" stroke-width="0.3">c)</text>
<defs><filter id="tex" x="283" y="248" width="208.7" height="163.5" filterUnits="userSpaceOnUse" color-interpolation-filters="sRGB"><feTurbulence type="fractalNoise" baseFrequency="0.33" numOctaves="2" seed="5"/><feColorMatrix type="matrix" values="1 0 0 0 0  1 0 0 0 0  1 0 0 0 0  0 0 0 0 1"/><feComponentTransfer><feFuncR type="table" tableValues="0.071 0.073 0.075 0.076 0.078 0.080 0.082 0.084 0.086 0.088 0.090 0.092 0.094 0.096 0.098 0.100 0.102 0.114 0.126 0.139 0.288 0.471 0.723 0.828 0.836 0.844 0.852 0.860 0.868 0.876 0.884 0.893 0.901 0.909 0.917 0.925 0.933 0.941 0.949 0.957 0.965"/><feFuncG type="table" tableValues="0.376 0.381 0.385 0.390 0.394 0.399 0.403 0.407 0.412 0.416 0.421 0.425 0.429 0.434 0.438 0.443 0.447 0.462 0.476 0.491 0.606 0.745 0.874 0.927 0.931 0.934 0.938 0.941 0.944 0.948 0.951 0.954 0.958 0.961 0.964 0.968 0.971 0.974 0.978 0.981 0.984"/><feFuncB type="table" tableValues="0.690 0.695 0.699 0.703 0.708 0.712 0.717 0.721 0.725 0.730 0.734 0.739 0.743 0.748 0.752 0.756 0.761 0.771 0.780 0.790 0.851 0.925 0.965 0.981 0.982 0.983 0.984 0.986 0.987 0.988 0.989 0.990 0.991 0.992 0.993 0.994 0.996 0.997 0.998 0.999 1.000"/></feComponentTransfer></filter></defs>
<rect x="283" y="248" width="208.7" height="163.5" fill="#000" filter="url(#tex)"/>
<rect x="283" y="268.1" width="208.7" height="10.3" fill="#0f6fc0"/>
<line x1="282" y1="412.5" x2="486" y2="412.5" stroke="#999" stroke-width="1"/>
<text x="280" y="414.8" font-size="6.5" fill="#555" text-anchor="end" font-weight="normal" >0</text>
<text x="280" y="398.3" font-size="6.5" fill="#555" text-anchor="end" font-weight="normal" >10</text>
<text x="280" y="381.9" font-size="6.5" fill="#555" text-anchor="end" font-weight="normal" >20</text>
<text x="280" y="365.4" font-size="6.5" fill="#555" text-anchor="end" font-weight="normal" >30</text>
<text x="280" y="348.9" font-size="6.5" fill="#555" text-anchor="end" font-weight="normal" >40</text>
<text x="280" y="332.4" font-size="6.5" fill="#555" text-anchor="end" font-weight="normal" >50</text>
<text x="280" y="315.9" font-size="6.5" fill="#555" text-anchor="end" font-weight="normal" >60</text>
<text x="280" y="299.5" font-size="6.5" fill="#555" text-anchor="end" font-weight="normal" >70</text>
<text x="280" y="283" font-size="6.5" fill="#555" text-anchor="end" font-weight="normal" >80</text>
<text x="280" y="266.5" font-size="6.5" fill="#555" text-anchor="end" font-weight="normal" >90</text>
<text x="282.6" y="422.4" font-size="6.5" fill="#555" text-anchor="middle" font-weight="normal" >0</text>
<line x1="282.6" y1="412.5" x2="282.6" y2="410.5" stroke="#555" stroke-width="0.9"/>
<text x="301.9" y="422.4" font-size="6.5" fill="#555" text-anchor="middle" font-weight="normal" >1</text>
<line x1="301.9" y1="412.5" x2="301.9" y2="410.5" stroke="#555" stroke-width="0.9"/>
<text x="321.1" y="422.4" font-size="6.5" fill="#555" text-anchor="middle" font-weight="normal" >2</text>
<line x1="321.1" y1="412.5" x2="321.1" y2="410.5" stroke="#555" stroke-width="0.9"/>
<text x="340.4" y="422.4" font-size="6.5" fill="#555" text-anchor="middle" font-weight="normal" >3</text>
<line x1="340.4" y1="412.5" x2="340.4" y2="410.5" stroke="#555" stroke-width="0.9"/>
<text x="359.6" y="422.4" font-size="6.5" fill="#555" text-anchor="middle" font-weight="normal" >4</text>
<line x1="359.6" y1="412.5" x2="359.6" y2="410.5" stroke="#555" stroke-width="0.9"/>
<text x="378.9" y="422.4" font-size="6.5" fill="#555" text-anchor="middle" font-weight="normal" >5</text>
<line x1="378.9" y1="412.5" x2="378.9" y2="410.5" stroke="#555" stroke-width="0.9"/>
<text x="398.1" y="422.4" font-size="6.5" fill="#555" text-anchor="middle" font-weight="normal" >6</text>
<line x1="398.1" y1="412.5" x2="398.1" y2="410.5" stroke="#555" stroke-width="0.9"/>
<text x="417.4" y="422.4" font-size="6.5" fill="#555" text-anchor="middle" font-weight="normal" >7</text>
<line x1="417.4" y1="412.5" x2="417.4" y2="410.5" stroke="#555" stroke-width="0.9"/>
<text x="436.6" y="422.4" font-size="6.5" fill="#555" text-anchor="middle" font-weight="normal" >8</text>
<line x1="436.6" y1="412.5" x2="436.6" y2="410.5" stroke="#555" stroke-width="0.9"/>
<text x="455.9" y="422.4" font-size="6.5" fill="#555" text-anchor="middle" font-weight="normal" >9</text>
<line x1="455.9" y1="412.5" x2="455.9" y2="410.5" stroke="#555" stroke-width="0.9"/>
<text x="475.1" y="422.4" font-size="6.5" fill="#555" text-anchor="middle" font-weight="normal" >10</text>
<line x1="475.1" y1="412.5" x2="475.1" y2="410.5" stroke="#555" stroke-width="0.9"/>
<text x="479" y="433" font-size="5" fill="#666" text-anchor="start" font-weight="normal" >&#215;10</text>
<text x="489.5" y="430.5" font-size="3.5" fill="#666" text-anchor="start" font-weight="normal" >4</text>
<text x="0" y="0" font-size="11.6" fill="#1e1e1e" text-anchor="middle" font-weight="normal" textLength="49.5" lengthAdjust="spacingAndGlyphs" stroke="#1e1e1e" stroke-width="0.3" transform="translate(267.3 329.5) rotate(-90)">Time (ns)</text>
<text x="385.3" y="439.6" font-size="11.6" fill="#1e1e1e" text-anchor="middle" font-weight="normal" textLength="30.4" lengthAdjust="spacingAndGlyphs" stroke="#1e1e1e" stroke-width="0.3">Count</text>
<text x="258.8" y="246.4" font-size="13.6" fill="#1a1a1a" text-anchor="start" font-weight="normal" textLength="11.7" lengthAdjust="spacingAndGlyphs" stroke="#1a1a1a" stroke-width="0.3">d)</text>
<line x1="479" y1="248.4" x2="533" y2="248.4" stroke="#000" stroke-width="1.6" stroke-dasharray="1.6 2.4"/>
<line x1="465" y1="266" x2="511" y2="266" stroke="#000" stroke-width="1.6" stroke-dasharray="1.6 2.4"/>
<line x1="465" y1="282.4" x2="511" y2="282.4" stroke="#000" stroke-width="1.6" stroke-dasharray="1.6 2.4"/>
<line x1="485" y1="412" x2="530" y2="412" stroke="#000" stroke-width="1.6" stroke-dasharray="1.6 2.4"/>
<line x1="509" y1="249" x2="509" y2="261" stroke="#000" stroke-width="1.6"/>
<path d="M506.3 260.5 L511.7 260.5 L509 265.5 Z" fill="#000"/>
<line x1="509" y1="288" x2="509" y2="297" stroke="#000" stroke-width="1.6"/>
<path d="M506.3 288 L511.7 288 L509 283 Z" fill="#000"/>
<line x1="523.8" y1="253" x2="523.8" y2="405" stroke="#000" stroke-width="1.6"/>
<path d="M521 254 L526.6 254 L523.8 248.8 Z" fill="#000"/>
<path d="M521 405 L526.6 405 L523.8 411 Z" fill="#000"/>
<rect x="517" y="331.3" width="13" height="25.4" fill="#fff"/>
<text x="518.6" y="347.6" font-size="12.3" fill="#111" text-anchor="start" font-weight="normal" font-style="italic">T</text>
<text x="505.4" y="276" font-size="11" fill="#222" text-anchor="start" font-weight="normal" font-style="italic" stroke="#222" stroke-width="0.2">t</text>
<text x="509.8" y="278.3" font-size="7.5" fill="#222" text-anchor="start" font-weight="normal" font-style="italic">g</text>
</svg></body></html>
